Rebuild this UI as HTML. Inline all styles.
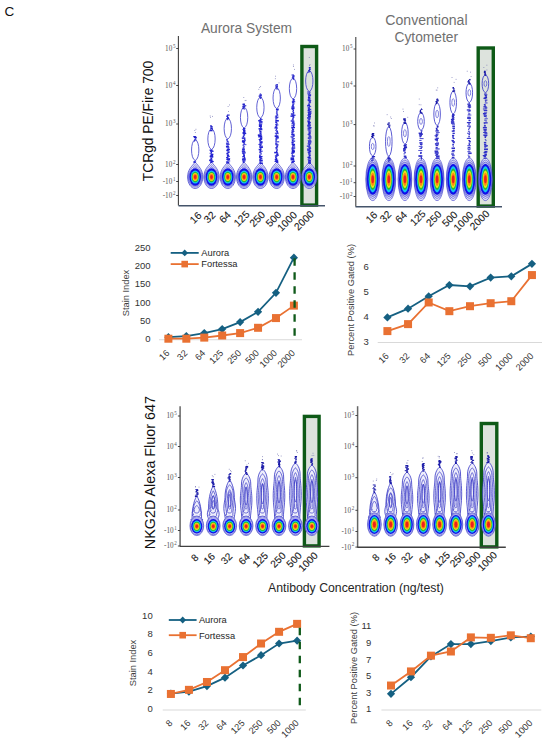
<!DOCTYPE html><html><head><meta charset="utf-8"><style>html,body{margin:0;padding:0;background:#fff;width:550px;height:742px;overflow:hidden;position:relative}</style></head><body><svg width="550" height="742" viewBox="0 0 550 742" style="position:absolute;left:0;top:0"><rect width="550" height="742" fill="#fff"/><text x="4.4" y="16.2" font-family="Liberation Sans, sans-serif" font-size="13.5" fill="#111">C</text><text transform="translate(246.5,32.5) scale(0.92,1)" x="0" y="0" text-anchor="middle" font-family="Liberation Sans, sans-serif" font-size="15" fill="#707070">Aurora System</text><text transform="translate(426.4,25.3) scale(0.94,1)" x="0" y="0" text-anchor="middle" font-family="Liberation Sans, sans-serif" font-size="15" fill="#707070">Conventional</text><text transform="translate(426.3,41.5) scale(0.92,1)" x="0" y="0" text-anchor="middle" font-family="Liberation Sans, sans-serif" font-size="15" fill="#707070">Cytometer</text><text transform="translate(152.6,121) rotate(-90)" text-anchor="middle" font-family="Liberation Sans, sans-serif" font-size="13.8" fill="#111">TCRgd PE/Fire 700</text><text transform="translate(154.8,472.6) rotate(-90)" text-anchor="middle" font-family="Liberation Sans, sans-serif" font-size="14.35" fill="#111">NKG2D Alexa Fluor 647</text><rect x="301.9" y="46.5" width="14.7" height="158.6" fill="#dde3dd" stroke="#0e5a17" stroke-width="3.4"/><path d="M195.2,162 C198.62,166.5 202.8,169.5 202.8,177 C202.8,183.32 199.38,188.5 195.2,188.5 C191.02,188.5 187.6,183.32 187.6,177 C187.6,169.5 191.78,166.5 195.2,162 Z" fill="#ededfa" stroke="#3232c8" stroke-width="0.7"/><path d="M195.2,164.5 C198.3,168.25 202.1,170.75 202.1,177 C202.1,182.61 198.99,187.2 195.2,187.2 C191.41,187.2 188.3,182.61 188.3,177 C188.3,170.75 192.09,168.25 195.2,164.5 Z" fill="none" stroke="#3232c8" stroke-width="0.5"/><path d="M195.2,166.5 C198.08,169.65 201.6,171.75 201.6,177 C201.6,182.06 198.72,186.2 195.2,186.2 C191.68,186.2 188.8,182.06 188.8,177 C188.8,171.75 192.32,169.65 195.2,166.5 Z" fill="#b0b0ee" stroke="#3232c8" stroke-width="0.5"/><ellipse cx="195.2" cy="177" rx="5.8" ry="8.7" fill="#1010e8" stroke="none" stroke-width="0"/><ellipse cx="195.2" cy="177" rx="4.41" ry="6.61" fill="#14c4f0" stroke="none" stroke-width="0"/><ellipse cx="195.2" cy="177" rx="3.48" ry="5.22" fill="#2cbc2c" stroke="none" stroke-width="0"/><ellipse cx="195.2" cy="177" rx="2.67" ry="4" fill="#e8e41a" stroke="none" stroke-width="0"/><ellipse cx="195.2" cy="177" rx="2.09" ry="3.13" fill="#ff8a12" stroke="none" stroke-width="0"/><ellipse cx="195.2" cy="177" rx="1.39" ry="2.09" fill="#ee1e1e" stroke="none" stroke-width="0"/><rect x="194.73" y="160.5" width="1.42" height="1.02" fill="#2222d0"/><rect x="193.48" y="161.1" width="2.02" height="1.24" fill="#2222d0"/><rect x="193.4" y="162.06" width="2.21" height="0.74" fill="#2222d0"/><path d="M195.2,139.5 C200.08,141.18 200.08,158.82 195.2,160.5 C190.32,158.82 190.32,141.18 195.2,139.5 Z" fill="none" stroke="#4646cc" stroke-width="0.85"/><path d="M195.2,138 C196.39,139.92 196.39,160.08 195.2,162 C194.01,160.08 194.01,139.92 195.2,138 Z" fill="none" stroke="#3232c8" stroke-width="0.6" opacity="0.0"/><rect x="193.27" y="136" width="2.65" height="1.12" fill="#2222c8"/><rect x="193.88" y="136.73" width="2.9" height="1.33" fill="#2222c8"/><rect x="195.23" y="137.66" width="1.09" height="1.68" fill="#2222c8"/><rect x="194.28" y="138.73" width="1.24" height="0.84" fill="#2222c8"/><rect x="194.34" y="139.6" width="2.16" height="0.88" fill="#2222c8"/><rect x="193.93" y="140.27" width="1.13" height="1.25" fill="#2222c8"/><rect x="194.91" y="132.12" width="0.8" height="0.8" fill="#7070b0"/><rect x="195.54" y="128.83" width="0.8" height="0.8" fill="#7070b0"/><rect x="194.4" y="130.08" width="0.8" height="0.8" fill="#7070b0"/><path d="M211.5,162 C214.92,166.5 219.1,169.5 219.1,177 C219.1,183.32 215.68,188.5 211.5,188.5 C207.32,188.5 203.9,183.32 203.9,177 C203.9,169.5 208.08,166.5 211.5,162 Z" fill="#ededfa" stroke="#3232c8" stroke-width="0.7"/><path d="M211.5,164.5 C214.6,168.25 218.4,170.75 218.4,177 C218.4,182.61 215.29,187.2 211.5,187.2 C207.71,187.2 204.6,182.61 204.6,177 C204.6,170.75 208.4,168.25 211.5,164.5 Z" fill="none" stroke="#3232c8" stroke-width="0.5"/><path d="M211.5,166.5 C214.38,169.65 217.9,171.75 217.9,177 C217.9,182.06 215.02,186.2 211.5,186.2 C207.98,186.2 205.1,182.06 205.1,177 C205.1,171.75 208.62,169.65 211.5,166.5 Z" fill="#b0b0ee" stroke="#3232c8" stroke-width="0.5"/><ellipse cx="211.5" cy="177" rx="5.8" ry="8.7" fill="#1010e8" stroke="none" stroke-width="0"/><ellipse cx="211.5" cy="177" rx="4.41" ry="6.61" fill="#14c4f0" stroke="none" stroke-width="0"/><ellipse cx="211.5" cy="177" rx="3.48" ry="5.22" fill="#2cbc2c" stroke="none" stroke-width="0"/><ellipse cx="211.5" cy="177" rx="2.67" ry="4" fill="#e8e41a" stroke="none" stroke-width="0"/><ellipse cx="211.5" cy="177" rx="2.09" ry="3.13" fill="#ff8a12" stroke="none" stroke-width="0"/><ellipse cx="211.5" cy="177" rx="1.39" ry="2.09" fill="#ee1e1e" stroke="none" stroke-width="0"/><rect x="209.61" y="149.5" width="2.96" height="1.49" fill="#2222d0"/><rect x="210.14" y="150.64" width="3.45" height="1.23" fill="#2222d0"/><rect x="210.7" y="151.47" width="1.33" height="1.68" fill="#2222d0"/><rect x="209.58" y="152.81" width="2.37" height="0.85" fill="#2222d0"/><rect x="210.8" y="153.65" width="2.6" height="1.46" fill="#2222d0"/><rect x="210.3" y="154.62" width="2.66" height="1.4" fill="#2222d0"/><rect x="209.64" y="155.64" width="3.65" height="1.54" fill="#2222d0"/><rect x="210.25" y="156.86" width="2.96" height="0.76" fill="#2222d0"/><rect x="210.42" y="157.82" width="1.8" height="1.52" fill="#2222d0"/><rect x="209.82" y="159.02" width="2.29" height="0.72" fill="#2222d0"/><rect x="209.33" y="159.49" width="3.15" height="0.76" fill="#2222d0"/><rect x="209.11" y="160.04" width="3.44" height="1.09" fill="#2222d0"/><rect x="210.27" y="160.89" width="3.47" height="1.25" fill="#2222d0"/><rect x="210.19" y="162.05" width="2.16" height="0.98" fill="#2222d0"/><path d="M211.5,128.5 C216.38,130.18 216.38,147.82 211.5,149.5 C206.62,147.82 206.62,130.18 211.5,128.5 Z" fill="none" stroke="#4646cc" stroke-width="0.85"/><path d="M211.5,127 C212.69,128.92 212.69,149.08 211.5,151 C210.31,149.08 210.31,128.92 211.5,127 Z" fill="none" stroke="#3232c8" stroke-width="0.6" opacity="0.0"/><rect x="210.33" y="125" width="1.3" height="1.66" fill="#2222c8"/><rect x="210.66" y="126.03" width="1.97" height="0.93" fill="#2222c8"/><rect x="210.37" y="126.67" width="1.84" height="0.7" fill="#2222c8"/><rect x="210.33" y="127.34" width="2.38" height="1.65" fill="#2222c8"/><rect x="211.59" y="128.56" width="1.11" height="1.38" fill="#2222c8"/><rect x="210.03" y="129.71" width="2.6" height="1.57" fill="#2222c8"/><rect x="212.04" y="115.93" width="0.8" height="0.8" fill="#7070b0"/><rect x="209.77" y="115.56" width="0.8" height="0.8" fill="#7070b0"/><rect x="210.15" y="116.88" width="0.8" height="0.8" fill="#7070b0"/><path d="M227.8,162 C231.22,166.5 235.4,169.5 235.4,177 C235.4,183.32 231.98,188.5 227.8,188.5 C223.62,188.5 220.2,183.32 220.2,177 C220.2,169.5 224.38,166.5 227.8,162 Z" fill="#ededfa" stroke="#3232c8" stroke-width="0.7"/><path d="M227.8,164.5 C230.9,168.25 234.7,170.75 234.7,177 C234.7,182.61 231.59,187.2 227.8,187.2 C224,187.2 220.9,182.61 220.9,177 C220.9,170.75 224.69,168.25 227.8,164.5 Z" fill="none" stroke="#3232c8" stroke-width="0.5"/><path d="M227.8,166.5 C230.68,169.65 234.2,171.75 234.2,177 C234.2,182.06 231.32,186.2 227.8,186.2 C224.28,186.2 221.4,182.06 221.4,177 C221.4,171.75 224.92,169.65 227.8,166.5 Z" fill="#b0b0ee" stroke="#3232c8" stroke-width="0.5"/><ellipse cx="227.8" cy="177" rx="5.8" ry="8.7" fill="#1010e8" stroke="none" stroke-width="0"/><ellipse cx="227.8" cy="177" rx="4.41" ry="6.61" fill="#14c4f0" stroke="none" stroke-width="0"/><ellipse cx="227.8" cy="177" rx="3.48" ry="5.22" fill="#2cbc2c" stroke="none" stroke-width="0"/><ellipse cx="227.8" cy="177" rx="2.67" ry="4" fill="#e8e41a" stroke="none" stroke-width="0"/><ellipse cx="227.8" cy="177" rx="2.09" ry="3.13" fill="#ff8a12" stroke="none" stroke-width="0"/><ellipse cx="227.8" cy="177" rx="1.39" ry="2.09" fill="#ee1e1e" stroke="none" stroke-width="0"/><rect x="226.43" y="139" width="1.15" height="1.04" fill="#2222d0"/><rect x="226.03" y="139.66" width="2.02" height="0.8" fill="#2222d0"/><rect x="226.7" y="140.58" width="1.42" height="1.31" fill="#2222d0"/><rect x="227.69" y="141.49" width="1.34" height="1.06" fill="#2222d0"/><rect x="225.96" y="142.62" width="2.35" height="1.17" fill="#2222d0"/><rect x="227.46" y="143.32" width="1.74" height="1.04" fill="#2222d0"/><rect x="226.01" y="143.98" width="3.66" height="0.72" fill="#2222d0"/><rect x="227.31" y="144.46" width="1.08" height="1.24" fill="#2222d0"/><rect x="225.94" y="145.68" width="2.95" height="1.56" fill="#2222d0"/><rect x="226.27" y="146.74" width="3.16" height="0.87" fill="#2222d0"/><rect x="227.49" y="147.65" width="1.62" height="1.03" fill="#2222d0"/><rect x="226.68" y="148.76" width="3.26" height="1.55" fill="#2222d0"/><rect x="226.34" y="150.02" width="2.45" height="0.93" fill="#2222d0"/><rect x="226.52" y="150.54" width="1.78" height="0.73" fill="#2222d0"/><rect x="227.37" y="151.32" width="2.25" height="1.66" fill="#2222d0"/><rect x="226.34" y="152.78" width="2.02" height="1.66" fill="#2222d0"/><rect x="227.21" y="153.81" width="1.57" height="0.9" fill="#2222d0"/><rect x="226.87" y="154.8" width="2.34" height="1.54" fill="#2222d0"/><rect x="227.03" y="156.09" width="2.85" height="0.78" fill="#2222d0"/><rect x="226.12" y="156.95" width="2.34" height="1.45" fill="#2222d0"/><rect x="226.93" y="158.18" width="3.24" height="1.03" fill="#2222d0"/><rect x="226.33" y="158.97" width="3.65" height="1.1" fill="#2222d0"/><rect x="227.74" y="159.67" width="1.42" height="0.83" fill="#2222d0"/><rect x="226.91" y="160.57" width="3.31" height="0.85" fill="#2222d0"/><rect x="225.94" y="161.39" width="2.54" height="1.05" fill="#2222d0"/><rect x="226.43" y="161.98" width="2.82" height="1.67" fill="#2222d0"/><path d="M227.8,118 C232.68,119.68 232.68,137.32 227.8,139 C222.92,137.32 222.92,119.68 227.8,118 Z" fill="none" stroke="#4646cc" stroke-width="0.85"/><path d="M227.8,116.5 C228.99,118.42 228.99,138.58 227.8,140.5 C226.61,138.58 226.61,118.42 227.8,116.5 Z" fill="none" stroke="#3232c8" stroke-width="0.6" opacity="0.0"/><rect x="226.95" y="114.5" width="2.74" height="1.13" fill="#2222c8"/><rect x="226.59" y="115.23" width="1.59" height="0.95" fill="#2222c8"/><rect x="226.29" y="116.05" width="1.84" height="0.96" fill="#2222c8"/><rect x="226.98" y="117.03" width="1.92" height="1.05" fill="#2222c8"/><rect x="226.38" y="118.06" width="2.84" height="1.12" fill="#2222c8"/><rect x="227.19" y="118.94" width="1.04" height="1.22" fill="#2222c8"/><rect x="229" y="104.54" width="0.8" height="0.8" fill="#7070b0"/><rect x="227.69" y="106.05" width="0.8" height="0.8" fill="#7070b0"/><rect x="228.03" y="111.03" width="0.8" height="0.8" fill="#7070b0"/><path d="M244.1,162 C247.52,166.5 251.7,169.5 251.7,177 C251.7,183.32 248.28,188.5 244.1,188.5 C239.92,188.5 236.5,183.32 236.5,177 C236.5,169.5 240.68,166.5 244.1,162 Z" fill="#ededfa" stroke="#3232c8" stroke-width="0.7"/><path d="M244.1,164.5 C247.2,168.25 251,170.75 251,177 C251,182.61 247.89,187.2 244.1,187.2 C240.31,187.2 237.2,182.61 237.2,177 C237.2,170.75 241,168.25 244.1,164.5 Z" fill="none" stroke="#3232c8" stroke-width="0.5"/><path d="M244.1,166.5 C246.98,169.65 250.5,171.75 250.5,177 C250.5,182.06 247.62,186.2 244.1,186.2 C240.58,186.2 237.7,182.06 237.7,177 C237.7,171.75 241.22,169.65 244.1,166.5 Z" fill="#b0b0ee" stroke="#3232c8" stroke-width="0.5"/><ellipse cx="244.1" cy="177" rx="5.8" ry="8.7" fill="#1010e8" stroke="none" stroke-width="0"/><ellipse cx="244.1" cy="177" rx="4.41" ry="6.61" fill="#14c4f0" stroke="none" stroke-width="0"/><ellipse cx="244.1" cy="177" rx="3.48" ry="5.22" fill="#2cbc2c" stroke="none" stroke-width="0"/><ellipse cx="244.1" cy="177" rx="2.67" ry="4" fill="#e8e41a" stroke="none" stroke-width="0"/><ellipse cx="244.1" cy="177" rx="2.09" ry="3.13" fill="#ff8a12" stroke="none" stroke-width="0"/><ellipse cx="244.1" cy="177" rx="1.39" ry="2.09" fill="#ee1e1e" stroke="none" stroke-width="0"/><rect x="242.96" y="128" width="2.45" height="1.03" fill="#2222d0"/><rect x="242.41" y="129" width="2.57" height="0.81" fill="#2222d0"/><rect x="242.99" y="129.59" width="2.42" height="1.47" fill="#2222d0"/><rect x="243.16" y="130.82" width="2.24" height="1.61" fill="#2222d0"/><rect x="242.55" y="131.98" width="2.94" height="1.21" fill="#2222d0"/><rect x="242.6" y="132.94" width="3.64" height="1.18" fill="#2222d0"/><rect x="243.33" y="134.07" width="1.73" height="1.64" fill="#2222d0"/><rect x="242.8" y="135.5" width="1.38" height="1.54" fill="#2222d0"/><rect x="242.58" y="136.59" width="1.67" height="0.77" fill="#2222d0"/><rect x="241.79" y="137.38" width="3.51" height="1.48" fill="#2222d0"/><rect x="244.01" y="138.59" width="1.4" height="1.36" fill="#2222d0"/><rect x="242.1" y="139.87" width="3.67" height="0.92" fill="#2222d0"/><rect x="241.89" y="140.64" width="3.33" height="1.69" fill="#2222d0"/><rect x="242.64" y="141.81" width="1.95" height="1.22" fill="#2222d0"/><rect x="243.66" y="142.65" width="1.05" height="1.42" fill="#2222d0"/><rect x="243.33" y="143.68" width="1.93" height="0.72" fill="#2222d0"/><rect x="242.68" y="144.35" width="3.76" height="0.76" fill="#2222d0"/><rect x="242.49" y="145.31" width="1.74" height="0.8" fill="#2222d0"/><rect x="243.29" y="146.18" width="1.36" height="0.97" fill="#2222d0"/><rect x="242.68" y="147.22" width="1.72" height="1.52" fill="#2222d0"/><rect x="241.96" y="148.56" width="2.96" height="1.27" fill="#2222d0"/><rect x="242.32" y="149.29" width="2.19" height="1.39" fill="#2222d0"/><rect x="241.81" y="150.57" width="3.24" height="1.33" fill="#2222d0"/><rect x="242.32" y="151.77" width="3.42" height="0.77" fill="#2222d0"/><rect x="241.93" y="152.38" width="3.59" height="1.25" fill="#2222d0"/><rect x="242.64" y="153.14" width="1.67" height="1.23" fill="#2222d0"/><rect x="243.02" y="153.9" width="1.56" height="0.75" fill="#2222d0"/><rect x="243.19" y="154.48" width="1.81" height="1.46" fill="#2222d0"/><rect x="243.18" y="155.38" width="1.05" height="1.05" fill="#2222d0"/><rect x="242.33" y="155.97" width="2.54" height="1.43" fill="#2222d0"/><rect x="243.96" y="157.02" width="1.3" height="1.63" fill="#2222d0"/><rect x="242.26" y="158.16" width="3.34" height="1.2" fill="#2222d0"/><rect x="241.97" y="159.09" width="3.75" height="1.39" fill="#2222d0"/><rect x="242.56" y="160.31" width="2.78" height="1.41" fill="#2222d0"/><rect x="242.73" y="161.28" width="1.36" height="0.75" fill="#2222d0"/><rect x="242.71" y="162.1" width="1.46" height="0.96" fill="#2222d0"/><path d="M244.1,107 C248.98,108.68 248.98,126.32 244.1,128 C239.22,126.32 239.22,108.68 244.1,107 Z" fill="none" stroke="#4646cc" stroke-width="0.85"/><path d="M244.1,105.5 C245.29,107.42 245.29,127.58 244.1,129.5 C242.91,127.58 242.91,107.42 244.1,105.5 Z" fill="none" stroke="#3232c8" stroke-width="0.6" opacity="0.0"/><rect x="242.58" y="103.5" width="2.34" height="1.57" fill="#2222c8"/><rect x="242.59" y="104.48" width="1.92" height="0.99" fill="#2222c8"/><rect x="243.39" y="105.25" width="2.92" height="0.96" fill="#2222c8"/><rect x="242.33" y="106.06" width="2.93" height="0.94" fill="#2222c8"/><rect x="243.18" y="106.76" width="1.76" height="0.7" fill="#2222c8"/><rect x="242.3" y="107.39" width="2.01" height="0.9" fill="#2222c8"/><rect x="242.47" y="108.02" width="1.8" height="0.79" fill="#2222c8"/><rect x="243.5" y="108.47" width="1.47" height="1" fill="#2222c8"/><rect x="244.73" y="100.25" width="0.8" height="0.8" fill="#7070b0"/><rect x="245.62" y="99.94" width="0.8" height="0.8" fill="#7070b0"/><rect x="243.4" y="97.01" width="0.8" height="0.8" fill="#7070b0"/><path d="M260.4,162 C263.82,166.5 268,169.5 268,177 C268,183.32 264.58,188.5 260.4,188.5 C256.22,188.5 252.8,183.32 252.8,177 C252.8,169.5 256.98,166.5 260.4,162 Z" fill="#ededfa" stroke="#3232c8" stroke-width="0.7"/><path d="M260.4,164.5 C263.5,168.25 267.3,170.75 267.3,177 C267.3,182.61 264.19,187.2 260.4,187.2 C256.6,187.2 253.5,182.61 253.5,177 C253.5,170.75 257.29,168.25 260.4,164.5 Z" fill="none" stroke="#3232c8" stroke-width="0.5"/><path d="M260.4,166.5 C263.28,169.65 266.8,171.75 266.8,177 C266.8,182.06 263.92,186.2 260.4,186.2 C256.88,186.2 254,182.06 254,177 C254,171.75 257.52,169.65 260.4,166.5 Z" fill="#b0b0ee" stroke="#3232c8" stroke-width="0.5"/><ellipse cx="260.4" cy="177" rx="5.8" ry="8.7" fill="#1010e8" stroke="none" stroke-width="0"/><ellipse cx="260.4" cy="177" rx="4.41" ry="6.61" fill="#14c4f0" stroke="none" stroke-width="0"/><ellipse cx="260.4" cy="177" rx="3.48" ry="5.22" fill="#2cbc2c" stroke="none" stroke-width="0"/><ellipse cx="260.4" cy="177" rx="2.67" ry="4" fill="#e8e41a" stroke="none" stroke-width="0"/><ellipse cx="260.4" cy="177" rx="2.09" ry="3.13" fill="#ff8a12" stroke="none" stroke-width="0"/><ellipse cx="260.4" cy="177" rx="1.39" ry="2.09" fill="#ee1e1e" stroke="none" stroke-width="0"/><rect x="260.05" y="118" width="1.42" height="1.68" fill="#2222d0"/><rect x="259.36" y="119.28" width="3.34" height="0.74" fill="#2222d0"/><rect x="258.19" y="120.03" width="3.27" height="1.43" fill="#2222d0"/><rect x="259.22" y="121.11" width="3.34" height="1.2" fill="#2222d0"/><rect x="258.94" y="122.23" width="3.5" height="1.28" fill="#2222d0"/><rect x="259.27" y="123.32" width="1.09" height="0.93" fill="#2222d0"/><rect x="258.82" y="124.03" width="3.34" height="0.8" fill="#2222d0"/><rect x="258.93" y="124.81" width="2.91" height="1.33" fill="#2222d0"/><rect x="258.86" y="125.54" width="3.1" height="1.5" fill="#2222d0"/><rect x="260.19" y="126.66" width="1.18" height="1.36" fill="#2222d0"/><rect x="259.9" y="127.55" width="1.74" height="0.77" fill="#2222d0"/><rect x="258.52" y="128.09" width="3.73" height="1.44" fill="#2222d0"/><rect x="259.37" y="129.09" width="2.91" height="1.18" fill="#2222d0"/><rect x="259.23" y="130.08" width="1.22" height="1.34" fill="#2222d0"/><rect x="259.58" y="130.96" width="1.85" height="1.44" fill="#2222d0"/><rect x="259.8" y="131.76" width="1.75" height="0.76" fill="#2222d0"/><rect x="259.52" y="132.56" width="1.81" height="1.38" fill="#2222d0"/><rect x="260.36" y="133.57" width="1.33" height="1.17" fill="#2222d0"/><rect x="257.82" y="134.32" width="3.62" height="1.68" fill="#2222d0"/><rect x="258.46" y="135.49" width="3.71" height="1.52" fill="#2222d0"/><rect x="258.11" y="136.48" width="3.65" height="0.91" fill="#2222d0"/><rect x="259.89" y="137.3" width="2.47" height="0.84" fill="#2222d0"/><rect x="259.81" y="137.83" width="2.42" height="1.52" fill="#2222d0"/><rect x="258.62" y="139.06" width="3.51" height="0.93" fill="#2222d0"/><rect x="259.13" y="139.58" width="2.38" height="0.7" fill="#2222d0"/><rect x="259.12" y="140.14" width="1.96" height="0.84" fill="#2222d0"/><rect x="259.39" y="141.06" width="3.1" height="0.7" fill="#2222d0"/><rect x="259.54" y="141.51" width="3" height="1.63" fill="#2222d0"/><rect x="260.15" y="142.57" width="2.1" height="1.07" fill="#2222d0"/><rect x="258.94" y="143.48" width="2.2" height="1.06" fill="#2222d0"/><rect x="258.39" y="144.09" width="3.34" height="0.8" fill="#2222d0"/><rect x="259.55" y="145.05" width="1.74" height="0.95" fill="#2222d0"/><rect x="259.18" y="145.67" width="3.68" height="1.07" fill="#2222d0"/><rect x="259.33" y="146.71" width="3.56" height="1.33" fill="#2222d0"/><rect x="260.2" y="147.74" width="1.14" height="1.42" fill="#2222d0"/><rect x="258.66" y="148.77" width="2.8" height="1.45" fill="#2222d0"/><rect x="259.68" y="149.6" width="1.36" height="1.63" fill="#2222d0"/><rect x="259.63" y="150.68" width="3.07" height="1" fill="#2222d0"/><rect x="259.57" y="151.37" width="1.84" height="1.36" fill="#2222d0"/><rect x="259.21" y="152.34" width="1.45" height="0.87" fill="#2222d0"/><rect x="260.24" y="153.31" width="1.62" height="1.2" fill="#2222d0"/><rect x="259.21" y="154.52" width="1.39" height="1.15" fill="#2222d0"/><rect x="259.36" y="155.2" width="1.26" height="1.04" fill="#2222d0"/><rect x="259.06" y="155.92" width="3.48" height="1.27" fill="#2222d0"/><rect x="258.97" y="156.84" width="2.47" height="1.11" fill="#2222d0"/><rect x="260.26" y="157.64" width="1.78" height="0.76" fill="#2222d0"/><rect x="259.6" y="158.13" width="2.76" height="1.2" fill="#2222d0"/><rect x="259.39" y="158.91" width="1.7" height="0.97" fill="#2222d0"/><rect x="259.31" y="159.69" width="3.38" height="1.65" fill="#2222d0"/><rect x="259.54" y="160.61" width="2.99" height="0.73" fill="#2222d0"/><rect x="259.73" y="161.27" width="1" height="1.29" fill="#2222d0"/><rect x="259.46" y="162.49" width="3.4" height="1.53" fill="#2222d0"/><path d="M260.4,97 C265.28,98.68 265.28,116.32 260.4,118 C255.52,116.32 255.52,98.68 260.4,97 Z" fill="none" stroke="#4646cc" stroke-width="0.85"/><path d="M260.4,95.5 C261.59,97.42 261.59,117.58 260.4,119.5 C259.21,117.58 259.21,97.42 260.4,95.5 Z" fill="none" stroke="#3232c8" stroke-width="0.6" opacity="0.0"/><rect x="259.78" y="93.5" width="1.31" height="0.81" fill="#2222c8"/><rect x="259.41" y="94.29" width="2.44" height="1.64" fill="#2222c8"/><rect x="258.61" y="95.57" width="2.1" height="1.16" fill="#2222c8"/><rect x="259.21" y="96.6" width="2.84" height="0.93" fill="#2222c8"/><rect x="259.87" y="97.26" width="1.5" height="0.83" fill="#2222c8"/><rect x="259.87" y="98.07" width="1.14" height="0.81" fill="#2222c8"/><rect x="259.29" y="86.99" width="0.8" height="0.8" fill="#7070b0"/><rect x="258.44" y="88.91" width="0.8" height="0.8" fill="#7070b0"/><rect x="260.24" y="86.21" width="0.8" height="0.8" fill="#7070b0"/><path d="M276.7,162 C280.12,166.5 284.3,169.5 284.3,177 C284.3,183.32 280.88,188.5 276.7,188.5 C272.52,188.5 269.1,183.32 269.1,177 C269.1,169.5 273.28,166.5 276.7,162 Z" fill="#ededfa" stroke="#3232c8" stroke-width="0.7"/><path d="M276.7,164.5 C279.81,168.25 283.6,170.75 283.6,177 C283.6,182.61 280.5,187.2 276.7,187.2 C272.9,187.2 269.8,182.61 269.8,177 C269.8,170.75 273.59,168.25 276.7,164.5 Z" fill="none" stroke="#3232c8" stroke-width="0.5"/><path d="M276.7,166.5 C279.58,169.65 283.1,171.75 283.1,177 C283.1,182.06 280.22,186.2 276.7,186.2 C273.18,186.2 270.3,182.06 270.3,177 C270.3,171.75 273.82,169.65 276.7,166.5 Z" fill="#b0b0ee" stroke="#3232c8" stroke-width="0.5"/><ellipse cx="276.7" cy="177" rx="5.8" ry="8.7" fill="#1010e8" stroke="none" stroke-width="0"/><ellipse cx="276.7" cy="177" rx="4.41" ry="6.61" fill="#14c4f0" stroke="none" stroke-width="0"/><ellipse cx="276.7" cy="177" rx="3.48" ry="5.22" fill="#2cbc2c" stroke="none" stroke-width="0"/><ellipse cx="276.7" cy="177" rx="2.67" ry="4" fill="#e8e41a" stroke="none" stroke-width="0"/><ellipse cx="276.7" cy="177" rx="2.09" ry="3.13" fill="#ff8a12" stroke="none" stroke-width="0"/><ellipse cx="276.7" cy="177" rx="1.39" ry="2.09" fill="#ee1e1e" stroke="none" stroke-width="0"/><rect x="275.91" y="108.5" width="2.8" height="1.66" fill="#2222d0"/><rect x="276.59" y="109.67" width="1.69" height="0.93" fill="#2222d0"/><rect x="276.17" y="110.58" width="1.06" height="1.01" fill="#2222d0"/><rect x="276.11" y="111.5" width="1.72" height="1.12" fill="#2222d0"/><rect x="275.89" y="112.63" width="1.1" height="0.93" fill="#2222d0"/><rect x="276.4" y="113.37" width="1.55" height="1.38" fill="#2222d0"/><rect x="276.66" y="114.53" width="1.57" height="1.2" fill="#2222d0"/><rect x="275.43" y="115.37" width="1.65" height="1.52" fill="#2222d0"/><rect x="274.86" y="116.62" width="3.67" height="0.99" fill="#2222d0"/><rect x="275.88" y="117.27" width="2.17" height="0.92" fill="#2222d0"/><rect x="275.19" y="118.3" width="2.1" height="0.85" fill="#2222d0"/><rect x="275.42" y="119.3" width="1.15" height="0.84" fill="#2222d0"/><rect x="275.34" y="119.98" width="3.47" height="1.6" fill="#2222d0"/><rect x="275.24" y="121.41" width="1.92" height="1.63" fill="#2222d0"/><rect x="276.42" y="122.82" width="1.09" height="1.45" fill="#2222d0"/><rect x="275.21" y="123.83" width="1.93" height="1.07" fill="#2222d0"/><rect x="276.44" y="124.42" width="1.98" height="0.98" fill="#2222d0"/><rect x="275.68" y="125.02" width="1.58" height="1.66" fill="#2222d0"/><rect x="274.87" y="126.39" width="2.21" height="1.52" fill="#2222d0"/><rect x="274.42" y="127.49" width="3.57" height="1.07" fill="#2222d0"/><rect x="276.01" y="128.28" width="1.08" height="1.6" fill="#2222d0"/><rect x="275.4" y="129.6" width="1.11" height="1.47" fill="#2222d0"/><rect x="276.24" y="130.45" width="1.72" height="1.62" fill="#2222d0"/><rect x="276.55" y="131.83" width="1.76" height="1.04" fill="#2222d0"/><rect x="274.9" y="132.74" width="3.01" height="0.96" fill="#2222d0"/><rect x="275.81" y="133.42" width="3.12" height="0.7" fill="#2222d0"/><rect x="275.74" y="134.16" width="1.07" height="1.64" fill="#2222d0"/><rect x="274.68" y="135.32" width="3.67" height="1.66" fill="#2222d0"/><rect x="276.19" y="136.37" width="2.38" height="1.13" fill="#2222d0"/><rect x="275.68" y="137.1" width="3.07" height="1.5" fill="#2222d0"/><rect x="275.45" y="138.35" width="1.92" height="1.31" fill="#2222d0"/><rect x="275.61" y="139.26" width="1.22" height="1.48" fill="#2222d0"/><rect x="275.36" y="140.49" width="1.18" height="0.95" fill="#2222d0"/><rect x="275.44" y="141.32" width="3.74" height="1.03" fill="#2222d0"/><rect x="275.44" y="142.43" width="1.24" height="0.96" fill="#2222d0"/><rect x="275.15" y="143.23" width="2.25" height="1.41" fill="#2222d0"/><rect x="275.65" y="144.24" width="2.89" height="1.32" fill="#2222d0"/><rect x="276.58" y="145.43" width="1.34" height="1.36" fill="#2222d0"/><rect x="276.06" y="146.34" width="2.04" height="1.27" fill="#2222d0"/><rect x="275.3" y="147.15" width="1.69" height="0.95" fill="#2222d0"/><rect x="275.58" y="148.15" width="1.91" height="1.28" fill="#2222d0"/><rect x="276.37" y="149.4" width="1.65" height="1.21" fill="#2222d0"/><rect x="276.02" y="150.43" width="1.29" height="1.69" fill="#2222d0"/><rect x="274.18" y="151.81" width="3.56" height="1.54" fill="#2222d0"/><rect x="276.69" y="152.82" width="1.53" height="0.82" fill="#2222d0"/><rect x="276.26" y="153.59" width="2.04" height="1.63" fill="#2222d0"/><rect x="275.82" y="154.73" width="3.18" height="0.96" fill="#2222d0"/><rect x="274.88" y="155.32" width="2.74" height="1.3" fill="#2222d0"/><rect x="275.52" y="156.23" width="1.57" height="0.84" fill="#2222d0"/><rect x="275.13" y="157.02" width="1.57" height="1.35" fill="#2222d0"/><rect x="275.64" y="157.95" width="1.52" height="1.38" fill="#2222d0"/><rect x="274.73" y="158.82" width="2.53" height="1.5" fill="#2222d0"/><rect x="275.65" y="159.7" width="2.54" height="1.1" fill="#2222d0"/><rect x="275.08" y="160.35" width="2.95" height="0.86" fill="#2222d0"/><rect x="274.57" y="160.98" width="3.67" height="1.01" fill="#2222d0"/><rect x="276.2" y="161.84" width="2.17" height="1.06" fill="#2222d0"/><path d="M276.7,87.5 C281.58,89.18 281.58,106.82 276.7,108.5 C271.82,106.82 271.82,89.18 276.7,87.5 Z" fill="none" stroke="#4646cc" stroke-width="0.85"/><path d="M276.7,86 C277.89,87.92 277.89,108.08 276.7,110 C275.51,108.08 275.51,87.92 276.7,86 Z" fill="none" stroke="#3232c8" stroke-width="0.6" opacity="0.0"/><rect x="276.37" y="84" width="1.39" height="1.06" fill="#2222c8"/><rect x="275.18" y="84.69" width="2.8" height="0.71" fill="#2222c8"/><rect x="275.25" y="85.49" width="2.77" height="1.11" fill="#2222c8"/><rect x="275.87" y="86.18" width="2.1" height="0.71" fill="#2222c8"/><rect x="275.37" y="87.02" width="2.24" height="0.79" fill="#2222c8"/><rect x="275.95" y="87.71" width="1.57" height="0.85" fill="#2222c8"/><rect x="276.2" y="88.64" width="1.98" height="0.81" fill="#2222c8"/><rect x="275.21" y="75.78" width="0.8" height="0.8" fill="#7070b0"/><rect x="278.6" y="82.49" width="0.8" height="0.8" fill="#7070b0"/><rect x="274.91" y="78.34" width="0.8" height="0.8" fill="#7070b0"/><path d="M293,162 C296.42,166.5 300.6,169.5 300.6,177 C300.6,183.32 297.18,188.5 293,188.5 C288.82,188.5 285.4,183.32 285.4,177 C285.4,169.5 289.58,166.5 293,162 Z" fill="#ededfa" stroke="#3232c8" stroke-width="0.7"/><path d="M293,164.5 C296.11,168.25 299.9,170.75 299.9,177 C299.9,182.61 296.8,187.2 293,187.2 C289.2,187.2 286.1,182.61 286.1,177 C286.1,170.75 289.89,168.25 293,164.5 Z" fill="none" stroke="#3232c8" stroke-width="0.5"/><path d="M293,166.5 C295.88,169.65 299.4,171.75 299.4,177 C299.4,182.06 296.52,186.2 293,186.2 C289.48,186.2 286.6,182.06 286.6,177 C286.6,171.75 290.12,169.65 293,166.5 Z" fill="#b0b0ee" stroke="#3232c8" stroke-width="0.5"/><ellipse cx="293" cy="177" rx="5.8" ry="8.7" fill="#1010e8" stroke="none" stroke-width="0"/><ellipse cx="293" cy="177" rx="4.41" ry="6.61" fill="#14c4f0" stroke="none" stroke-width="0"/><ellipse cx="293" cy="177" rx="3.48" ry="5.22" fill="#2cbc2c" stroke="none" stroke-width="0"/><ellipse cx="293" cy="177" rx="2.67" ry="4" fill="#e8e41a" stroke="none" stroke-width="0"/><ellipse cx="293" cy="177" rx="2.09" ry="3.13" fill="#ff8a12" stroke="none" stroke-width="0"/><ellipse cx="293" cy="177" rx="1.39" ry="2.09" fill="#ee1e1e" stroke="none" stroke-width="0"/><rect x="292.6" y="99" width="2.09" height="1.63" fill="#2222d0"/><rect x="292.73" y="100.24" width="1.45" height="1.52" fill="#2222d0"/><rect x="291.84" y="101.2" width="3.37" height="1.1" fill="#2222d0"/><rect x="291.97" y="101.9" width="2.12" height="0.92" fill="#2222d0"/><rect x="292.51" y="102.62" width="1.69" height="0.82" fill="#2222d0"/><rect x="292.12" y="103.57" width="2.57" height="0.74" fill="#2222d0"/><rect x="292.49" y="104" width="1.33" height="1.54" fill="#2222d0"/><rect x="291.94" y="105.14" width="1.86" height="1.33" fill="#2222d0"/><rect x="291.49" y="106.19" width="2.84" height="1.13" fill="#2222d0"/><rect x="291.62" y="107.05" width="2.73" height="0.72" fill="#2222d0"/><rect x="291.34" y="107.58" width="3.18" height="1.46" fill="#2222d0"/><rect x="291.76" y="108.49" width="1.3" height="1.17" fill="#2222d0"/><rect x="291.9" y="109.37" width="2.24" height="0.79" fill="#2222d0"/><rect x="292.76" y="109.83" width="1.23" height="1.34" fill="#2222d0"/><rect x="292.43" y="110.99" width="1.15" height="1.21" fill="#2222d0"/><rect x="292.88" y="111.86" width="1.38" height="1.65" fill="#2222d0"/><rect x="290.87" y="113.32" width="3.28" height="1.43" fill="#2222d0"/><rect x="291.83" y="114.65" width="3.68" height="1.19" fill="#2222d0"/><rect x="290.5" y="115.39" width="3.61" height="1.49" fill="#2222d0"/><rect x="292.91" y="116.4" width="1.44" height="1.46" fill="#2222d0"/><rect x="292.3" y="117.36" width="1.4" height="1.52" fill="#2222d0"/><rect x="292.14" y="118.7" width="1.74" height="0.91" fill="#2222d0"/><rect x="291.7" y="119.37" width="1.51" height="0.74" fill="#2222d0"/><rect x="290.72" y="120.29" width="3.51" height="1.38" fill="#2222d0"/><rect x="291.98" y="121.48" width="2.49" height="0.82" fill="#2222d0"/><rect x="291.85" y="122.13" width="2.55" height="1.57" fill="#2222d0"/><rect x="291.32" y="123.48" width="3.78" height="0.8" fill="#2222d0"/><rect x="292.91" y="124.14" width="1.74" height="1.5" fill="#2222d0"/><rect x="291.34" y="125.28" width="3.14" height="1.06" fill="#2222d0"/><rect x="292.94" y="125.96" width="1.14" height="1.44" fill="#2222d0"/><rect x="291.26" y="126.89" width="3.76" height="1.34" fill="#2222d0"/><rect x="291.75" y="127.99" width="1.01" height="1.01" fill="#2222d0"/><rect x="291.92" y="128.63" width="2.21" height="1.32" fill="#2222d0"/><rect x="292.43" y="129.85" width="1.64" height="0.83" fill="#2222d0"/><rect x="291.37" y="130.32" width="1.99" height="0.7" fill="#2222d0"/><rect x="291.83" y="130.9" width="2.63" height="0.92" fill="#2222d0"/><rect x="291.25" y="131.52" width="2.33" height="1.32" fill="#2222d0"/><rect x="291.64" y="132.77" width="1.42" height="0.94" fill="#2222d0"/><rect x="291.25" y="133.64" width="3.19" height="1.57" fill="#2222d0"/><rect x="291.7" y="134.65" width="2.81" height="0.71" fill="#2222d0"/><rect x="292.58" y="135.23" width="2.24" height="1.35" fill="#2222d0"/><rect x="290.51" y="136.37" width="3.53" height="0.95" fill="#2222d0"/><rect x="291.46" y="137.19" width="1.67" height="1.11" fill="#2222d0"/><rect x="292.43" y="138.22" width="2.54" height="0.71" fill="#2222d0"/><rect x="291.66" y="138.69" width="2.7" height="0.9" fill="#2222d0"/><rect x="291.95" y="139.54" width="1.49" height="1.51" fill="#2222d0"/><rect x="291.71" y="140.54" width="3.49" height="0.75" fill="#2222d0"/><rect x="291.71" y="141.34" width="3.36" height="0.71" fill="#2222d0"/><rect x="291.43" y="141.99" width="2.27" height="1.44" fill="#2222d0"/><rect x="292.18" y="142.84" width="1.11" height="0.93" fill="#2222d0"/><rect x="291.66" y="143.76" width="3.37" height="1.4" fill="#2222d0"/><rect x="292.35" y="144.68" width="2.22" height="1.25" fill="#2222d0"/><rect x="292.35" y="145.66" width="2.8" height="0.97" fill="#2222d0"/><rect x="292.1" y="146.31" width="1.04" height="1.58" fill="#2222d0"/><rect x="291.57" y="147.3" width="3.65" height="1.44" fill="#2222d0"/><rect x="291.62" y="148.28" width="1.92" height="1.58" fill="#2222d0"/><rect x="291.79" y="149.65" width="2.94" height="1.33" fill="#2222d0"/><rect x="291.64" y="150.92" width="3.35" height="1.17" fill="#2222d0"/><rect x="291.6" y="152.03" width="3.03" height="1.14" fill="#2222d0"/><rect x="290.95" y="152.83" width="2.74" height="0.91" fill="#2222d0"/><rect x="291.83" y="153.83" width="1.08" height="0.84" fill="#2222d0"/><rect x="291.55" y="154.8" width="1.4" height="1.04" fill="#2222d0"/><rect x="291.93" y="155.4" width="2.77" height="1.39" fill="#2222d0"/><rect x="291.45" y="156.57" width="2.65" height="0.77" fill="#2222d0"/><rect x="290.56" y="157.44" width="3.5" height="1.52" fill="#2222d0"/><rect x="290.55" y="158.76" width="3.64" height="1.61" fill="#2222d0"/><rect x="293.01" y="159.76" width="1.1" height="0.81" fill="#2222d0"/><rect x="291.56" y="160.65" width="3.31" height="1.33" fill="#2222d0"/><rect x="292.77" y="161.54" width="1.27" height="0.8" fill="#2222d0"/><rect x="291.14" y="162.1" width="2.19" height="1.02" fill="#2222d0"/><path d="M293,78 C297.88,79.68 297.88,97.32 293,99 C288.12,97.32 288.12,79.68 293,78 Z" fill="none" stroke="#4646cc" stroke-width="0.85"/><path d="M293,76.5 C294.19,78.42 294.19,98.58 293,100.5 C291.81,98.58 291.81,78.42 293,76.5 Z" fill="none" stroke="#3232c8" stroke-width="0.6" opacity="0.0"/><rect x="291.57" y="74.5" width="2.43" height="0.98" fill="#2222c8"/><rect x="292.56" y="75.2" width="2.01" height="1.66" fill="#2222c8"/><rect x="291.99" y="76.43" width="1.83" height="0.73" fill="#2222c8"/><rect x="291.86" y="77.21" width="2.41" height="1.05" fill="#2222c8"/><rect x="292.92" y="77.9" width="1.18" height="1.56" fill="#2222c8"/><rect x="292.72" y="78.84" width="1.4" height="0.7" fill="#2222c8"/><rect x="292.96" y="64.54" width="0.8" height="0.8" fill="#7070b0"/><rect x="294.19" y="68.92" width="0.8" height="0.8" fill="#7070b0"/><rect x="292.98" y="66.16" width="0.8" height="0.8" fill="#7070b0"/><path d="M309.3,162 C312.72,166.5 316.9,169.5 316.9,177 C316.9,183.32 313.48,188.5 309.3,188.5 C305.12,188.5 301.7,183.32 301.7,177 C301.7,169.5 305.88,166.5 309.3,162 Z" fill="#ededfa" stroke="#3232c8" stroke-width="0.7"/><path d="M309.3,164.5 C312.41,168.25 316.2,170.75 316.2,177 C316.2,182.61 313.1,187.2 309.3,187.2 C305.5,187.2 302.4,182.61 302.4,177 C302.4,170.75 306.19,168.25 309.3,164.5 Z" fill="none" stroke="#3232c8" stroke-width="0.5"/><path d="M309.3,166.5 C312.18,169.65 315.7,171.75 315.7,177 C315.7,182.06 312.82,186.2 309.3,186.2 C305.78,186.2 302.9,182.06 302.9,177 C302.9,171.75 306.42,169.65 309.3,166.5 Z" fill="#b0b0ee" stroke="#3232c8" stroke-width="0.5"/><ellipse cx="309.3" cy="177" rx="5.8" ry="8.7" fill="#1010e8" stroke="none" stroke-width="0"/><ellipse cx="309.3" cy="177" rx="4.41" ry="6.61" fill="#14c4f0" stroke="none" stroke-width="0"/><ellipse cx="309.3" cy="177" rx="3.48" ry="5.22" fill="#2cbc2c" stroke="none" stroke-width="0"/><ellipse cx="309.3" cy="177" rx="2.67" ry="4" fill="#e8e41a" stroke="none" stroke-width="0"/><ellipse cx="309.3" cy="177" rx="2.09" ry="3.13" fill="#ff8a12" stroke="none" stroke-width="0"/><ellipse cx="309.3" cy="177" rx="1.39" ry="2.09" fill="#ee1e1e" stroke="none" stroke-width="0"/><rect x="307.25" y="91.5" width="3.33" height="1.05" fill="#2222d0"/><rect x="308.82" y="92.6" width="1.6" height="0.98" fill="#2222d0"/><rect x="307.24" y="93.41" width="2.78" height="0.81" fill="#2222d0"/><rect x="307.9" y="94.29" width="3.2" height="1.4" fill="#2222d0"/><rect x="308.87" y="95.25" width="2.1" height="1.1" fill="#2222d0"/><rect x="308.29" y="95.91" width="1.07" height="1.59" fill="#2222d0"/><rect x="307.91" y="96.92" width="2.4" height="1.6" fill="#2222d0"/><rect x="308.21" y="98.29" width="2.29" height="0.93" fill="#2222d0"/><rect x="307.65" y="99.22" width="2.81" height="1.45" fill="#2222d0"/><rect x="307.88" y="100.2" width="3.36" height="0.86" fill="#2222d0"/><rect x="308.62" y="101.08" width="2.23" height="0.87" fill="#2222d0"/><rect x="308.77" y="101.87" width="2.29" height="0.83" fill="#2222d0"/><rect x="308.7" y="102.46" width="1.84" height="0.89" fill="#2222d0"/><rect x="308.18" y="103.41" width="1.44" height="0.85" fill="#2222d0"/><rect x="308.3" y="104.06" width="1.45" height="1.22" fill="#2222d0"/><rect x="307.14" y="104.84" width="3.04" height="1.68" fill="#2222d0"/><rect x="309.04" y="106.29" width="2.08" height="0.8" fill="#2222d0"/><rect x="307.71" y="107.17" width="2.22" height="1.43" fill="#2222d0"/><rect x="308.33" y="108.31" width="1.58" height="0.81" fill="#2222d0"/><rect x="308" y="108.77" width="3.21" height="1.1" fill="#2222d0"/><rect x="307.58" y="109.65" width="2.3" height="1.33" fill="#2222d0"/><rect x="308.42" y="110.71" width="3.07" height="1.1" fill="#2222d0"/><rect x="307.63" y="111.56" width="3.1" height="1.27" fill="#2222d0"/><rect x="308.01" y="112.38" width="3.46" height="1.42" fill="#2222d0"/><rect x="308.08" y="113.55" width="2.9" height="1.55" fill="#2222d0"/><rect x="307.28" y="114.66" width="2.76" height="1.01" fill="#2222d0"/><rect x="308.01" y="115.44" width="3" height="1.48" fill="#2222d0"/><rect x="308.36" y="116.4" width="2.27" height="1.12" fill="#2222d0"/><rect x="306.99" y="117.24" width="3.6" height="1.38" fill="#2222d0"/><rect x="308.24" y="118.36" width="2.09" height="1.48" fill="#2222d0"/><rect x="307.5" y="119.7" width="2.52" height="0.74" fill="#2222d0"/><rect x="307.43" y="120.54" width="2.45" height="1.64" fill="#2222d0"/><rect x="307.82" y="121.76" width="3.01" height="1.24" fill="#2222d0"/><rect x="307.93" y="122.79" width="2.46" height="1.53" fill="#2222d0"/><rect x="307.67" y="124.16" width="2.92" height="0.91" fill="#2222d0"/><rect x="307.19" y="125.08" width="3.76" height="0.82" fill="#2222d0"/><rect x="307.46" y="125.56" width="2.12" height="0.97" fill="#2222d0"/><rect x="307.59" y="126.33" width="2.96" height="1.12" fill="#2222d0"/><rect x="308.47" y="127.09" width="3.08" height="0.92" fill="#2222d0"/><rect x="307.51" y="127.89" width="3.24" height="0.92" fill="#2222d0"/><rect x="308.21" y="128.51" width="3.17" height="0.83" fill="#2222d0"/><rect x="307.57" y="129.31" width="2.57" height="1.17" fill="#2222d0"/><rect x="308.42" y="130.49" width="2.79" height="1.05" fill="#2222d0"/><rect x="308.47" y="131.51" width="1.82" height="1.17" fill="#2222d0"/><rect x="308.86" y="132.23" width="1.99" height="1.53" fill="#2222d0"/><rect x="308.33" y="133.22" width="1.71" height="1.08" fill="#2222d0"/><rect x="307.44" y="133.91" width="3.02" height="0.7" fill="#2222d0"/><rect x="308.01" y="134.43" width="2.34" height="1" fill="#2222d0"/><rect x="308.98" y="135.33" width="2.01" height="1.36" fill="#2222d0"/><rect x="308.29" y="136.55" width="3.32" height="0.76" fill="#2222d0"/><rect x="307.85" y="137.4" width="3.33" height="0.84" fill="#2222d0"/><rect x="307.72" y="137.87" width="3.66" height="0.71" fill="#2222d0"/><rect x="308.17" y="138.4" width="1.4" height="0.8" fill="#2222d0"/><rect x="309.23" y="139.27" width="1.43" height="1.05" fill="#2222d0"/><rect x="307.73" y="140.28" width="3.5" height="0.87" fill="#2222d0"/><rect x="308.01" y="141.18" width="3.5" height="1.37" fill="#2222d0"/><rect x="307.88" y="142.4" width="2.94" height="0.9" fill="#2222d0"/><rect x="307.65" y="143.3" width="3.47" height="1.14" fill="#2222d0"/><rect x="308.59" y="144.07" width="1.39" height="0.93" fill="#2222d0"/><rect x="308.58" y="144.62" width="1.4" height="1.17" fill="#2222d0"/><rect x="306.8" y="145.53" width="3.42" height="1.24" fill="#2222d0"/><rect x="308.28" y="146.68" width="2.58" height="1.17" fill="#2222d0"/><rect x="308.95" y="147.78" width="2.17" height="1.07" fill="#2222d0"/><rect x="307.16" y="148.41" width="2.78" height="1.34" fill="#2222d0"/><rect x="307.22" y="149.48" width="3.61" height="1.38" fill="#2222d0"/><rect x="308.76" y="150.78" width="2.36" height="1.21" fill="#2222d0"/><rect x="307.67" y="151.47" width="2.75" height="1.42" fill="#2222d0"/><rect x="308.18" y="152.72" width="2.33" height="1.07" fill="#2222d0"/><rect x="308.07" y="153.73" width="2.22" height="0.91" fill="#2222d0"/><rect x="308.91" y="154.54" width="1.82" height="1.53" fill="#2222d0"/><rect x="308.43" y="155.6" width="1.76" height="1.2" fill="#2222d0"/><rect x="307.42" y="156.8" width="3.22" height="1.35" fill="#2222d0"/><rect x="308.19" y="157.72" width="2.64" height="1" fill="#2222d0"/><rect x="308.41" y="158.7" width="3.02" height="0.74" fill="#2222d0"/><rect x="307.59" y="159.41" width="1.84" height="0.75" fill="#2222d0"/><rect x="308.2" y="159.92" width="2.7" height="1.62" fill="#2222d0"/><rect x="308.13" y="161.25" width="2.71" height="1.61" fill="#2222d0"/><rect x="308.25" y="162.48" width="2.67" height="1.4" fill="#2222d0"/><path d="M309.3,70.5 C314.18,72.18 314.18,89.82 309.3,91.5 C304.42,89.82 304.42,72.18 309.3,70.5 Z" fill="none" stroke="#4646cc" stroke-width="0.85"/><path d="M309.3,69 C310.49,70.92 310.49,91.08 309.3,93 C308.11,91.08 308.11,70.92 309.3,69 Z" fill="none" stroke="#3232c8" stroke-width="0.6" opacity="0.0"/><rect x="308.76" y="67" width="1.92" height="1.37" fill="#2222c8"/><rect x="309.2" y="67.8" width="1.07" height="0.88" fill="#2222c8"/><rect x="308.95" y="68.74" width="1.74" height="1.36" fill="#2222c8"/><rect x="308.23" y="69.88" width="1.52" height="1.26" fill="#2222c8"/><rect x="308.6" y="70.79" width="1.86" height="1.02" fill="#2222c8"/><rect x="307.5" y="71.82" width="2.14" height="0.75" fill="#2222c8"/><rect x="309.6" y="64.29" width="0.8" height="0.8" fill="#7070b0"/><rect x="309.09" y="65.27" width="0.8" height="0.8" fill="#7070b0"/><rect x="308.85" y="57.13" width="0.8" height="0.8" fill="#7070b0"/><line x1="178.4" y1="36" x2="178.4" y2="205.5" stroke="#404040" stroke-width="1.1"/><line x1="178.5" y1="205.8" x2="325" y2="205.8" stroke="#44546a" stroke-width="1.6"/><line x1="176.2" y1="48.5" x2="178.4" y2="48.5" stroke="#333" stroke-width="0.9"/><text x="172.3" y="50.9" text-anchor="end" font-family="Liberation Serif, serif" font-size="7.2" fill="#555">10</text><text x="175.5" y="47.7" text-anchor="end" font-family="Liberation Serif, serif" font-size="5.04" fill="#555">5</text><line x1="176.2" y1="85.5" x2="178.4" y2="85.5" stroke="#333" stroke-width="0.9"/><text x="172.3" y="87.9" text-anchor="end" font-family="Liberation Serif, serif" font-size="7.2" fill="#555">10</text><text x="175.5" y="84.7" text-anchor="end" font-family="Liberation Serif, serif" font-size="5.04" fill="#555">4</text><line x1="176.2" y1="124" x2="178.4" y2="124" stroke="#333" stroke-width="0.9"/><text x="172.3" y="126.4" text-anchor="end" font-family="Liberation Serif, serif" font-size="7.2" fill="#555">10</text><text x="175.5" y="123.2" text-anchor="end" font-family="Liberation Serif, serif" font-size="5.04" fill="#555">3</text><line x1="176.2" y1="164.5" x2="178.4" y2="164.5" stroke="#333" stroke-width="0.9"/><text x="172.3" y="166.9" text-anchor="end" font-family="Liberation Serif, serif" font-size="7.2" fill="#555">10</text><text x="175.5" y="163.7" text-anchor="end" font-family="Liberation Serif, serif" font-size="5.04" fill="#555">2</text><line x1="176.2" y1="181.5" x2="178.4" y2="181.5" stroke="#333" stroke-width="0.9"/><text x="172.3" y="183.9" text-anchor="end" font-family="Liberation Serif, serif" font-size="7.2" fill="#555">-10</text><text x="175.5" y="180.7" text-anchor="end" font-family="Liberation Serif, serif" font-size="5.04" fill="#555">1</text><line x1="176.2" y1="195.5" x2="178.4" y2="195.5" stroke="#333" stroke-width="0.9"/><text x="172.3" y="197.9" text-anchor="end" font-family="Liberation Serif, serif" font-size="7.2" fill="#555">-10</text><text x="175.5" y="194.7" text-anchor="end" font-family="Liberation Serif, serif" font-size="5.04" fill="#555">2</text><text transform="translate(196.96,210.9) rotate(-45)" text-anchor="end" font-family="Liberation Sans, sans-serif" font-size="10.3" fill="#1a1a1a" stroke="#1a1a1a" stroke-width="0.1" dy="7.42">16</text><text transform="translate(210.96,210.5) rotate(-45)" text-anchor="end" font-family="Liberation Sans, sans-serif" font-size="10.3" fill="#1a1a1a" stroke="#1a1a1a" stroke-width="0.1" dy="7.42">32</text><text transform="translate(226.26,210.5) rotate(-45)" text-anchor="end" font-family="Liberation Sans, sans-serif" font-size="10.3" fill="#1a1a1a" stroke="#1a1a1a" stroke-width="0.1" dy="7.42">64</text><text transform="translate(244.96,209.8) rotate(-45)" text-anchor="end" font-family="Liberation Sans, sans-serif" font-size="10.3" fill="#1a1a1a" stroke="#1a1a1a" stroke-width="0.1" dy="7.42">125</text><text transform="translate(260.66,210.1) rotate(-45)" text-anchor="end" font-family="Liberation Sans, sans-serif" font-size="10.3" fill="#1a1a1a" stroke="#1a1a1a" stroke-width="0.1" dy="7.42">250</text><text transform="translate(276.86,210.2) rotate(-45)" text-anchor="end" font-family="Liberation Sans, sans-serif" font-size="10.3" fill="#1a1a1a" stroke="#1a1a1a" stroke-width="0.1" dy="7.42">500</text><text transform="translate(292.46,210.5) rotate(-45)" text-anchor="end" font-family="Liberation Sans, sans-serif" font-size="10.3" fill="#1a1a1a" stroke="#1a1a1a" stroke-width="0.1" dy="7.42">1000</text><text transform="translate(309.26,209.6) rotate(-45)" text-anchor="end" font-family="Liberation Sans, sans-serif" font-size="10.3" fill="#1a1a1a" stroke="#1a1a1a" stroke-width="0.1" dy="7.42">2000</text><rect x="478.2" y="48" width="15.1" height="158.1" fill="#dde3dd" stroke="#0e5a17" stroke-width="3.4"/><ellipse cx="372.7" cy="179.3" rx="6.9" ry="21.3" fill="#e0e0f8" stroke="#3232c8" stroke-width="0.6"/><ellipse cx="372.7" cy="179.3" rx="6.5" ry="19.2" fill="none" stroke="#3232c8" stroke-width="0.5"/><ellipse cx="372.7" cy="179.3" rx="6.2" ry="17.3" fill="#b0b0ee" stroke="#3232c8" stroke-width="0.5"/><ellipse cx="372.7" cy="179.3" rx="5.9" ry="15.4" fill="#1010e8" stroke="none" stroke-width="0"/><ellipse cx="372.7" cy="179.3" rx="4.13" ry="13.09" fill="#14c4f0" stroke="none" stroke-width="0"/><ellipse cx="372.7" cy="179.3" rx="3.3" ry="10.78" fill="#2cbc2c" stroke="none" stroke-width="0"/><ellipse cx="372.7" cy="179.3" rx="2.6" ry="8.78" fill="#e8e41a" stroke="none" stroke-width="0"/><ellipse cx="372.7" cy="179.3" rx="2.01" ry="6.62" fill="#ff8a12" stroke="none" stroke-width="0"/><ellipse cx="372.7" cy="179.3" rx="1.3" ry="4" fill="#ee1e1e" stroke="none" stroke-width="0"/><rect x="371.84" y="156" width="3.25" height="1.29" fill="#2424c0"/><rect x="372.31" y="156.95" width="1.24" height="1.11" fill="#2424c0"/><rect x="371.39" y="157.67" width="1.04" height="0.85" fill="#2424c0"/><rect x="370.38" y="158.48" width="3.32" height="0.82" fill="#2424c0"/><rect x="372.53" y="159.36" width="1.04" height="0.83" fill="#2424c0"/><rect x="371.26" y="159.94" width="1.45" height="1.43" fill="#2424c0"/><path d="M372.7,137 C377.06,138.52 377.06,154.48 372.7,156 C368.34,154.48 368.34,138.52 372.7,137 Z" fill="none" stroke="#3232c8" stroke-width="0.8"/><ellipse cx="372.7" cy="146.5" rx="1.4" ry="3.14" fill="none" stroke="#3232c8" stroke-width="0.6"/><rect x="371.88" y="133" width="2.37" height="1.41" fill="#1a1aa8"/><rect x="371.57" y="133.82" width="2.13" height="1.33" fill="#1a1aa8"/><rect x="371.78" y="135.02" width="2.54" height="0.95" fill="#1a1aa8"/><rect x="372.19" y="135.55" width="2.04" height="0.71" fill="#1a1aa8"/><rect x="371.08" y="135.98" width="2.17" height="1.01" fill="#1a1aa8"/><rect x="371.94" y="136.97" width="1.1" height="1.19" fill="#1a1aa8"/><rect x="373.58" y="125.83" width="0.8" height="0.8" fill="#7070b0"/><rect x="374.19" y="122.59" width="0.8" height="0.8" fill="#7070b0"/><rect x="373.42" y="125" width="0.8" height="0.8" fill="#7070b0"/><ellipse cx="388.8" cy="179.3" rx="6.9" ry="21.3" fill="#e0e0f8" stroke="#3232c8" stroke-width="0.6"/><ellipse cx="388.8" cy="179.3" rx="6.5" ry="19.2" fill="none" stroke="#3232c8" stroke-width="0.5"/><ellipse cx="388.8" cy="179.3" rx="6.2" ry="17.3" fill="#b0b0ee" stroke="#3232c8" stroke-width="0.5"/><ellipse cx="388.8" cy="179.3" rx="5.9" ry="15.4" fill="#1010e8" stroke="none" stroke-width="0"/><ellipse cx="388.8" cy="179.3" rx="4.13" ry="13.09" fill="#14c4f0" stroke="none" stroke-width="0"/><ellipse cx="388.8" cy="179.3" rx="3.3" ry="10.78" fill="#2cbc2c" stroke="none" stroke-width="0"/><ellipse cx="388.8" cy="179.3" rx="2.6" ry="8.78" fill="#e8e41a" stroke="none" stroke-width="0"/><ellipse cx="388.8" cy="179.3" rx="2.01" ry="6.62" fill="#ff8a12" stroke="none" stroke-width="0"/><ellipse cx="388.8" cy="179.3" rx="1.3" ry="4" fill="#ee1e1e" stroke="none" stroke-width="0"/><rect x="387.62" y="156.5" width="2" height="1.33" fill="#2424c0"/><rect x="387.47" y="157.62" width="2.88" height="1.64" fill="#2424c0"/><rect x="387.46" y="158.68" width="3.34" height="0.76" fill="#2424c0"/><rect x="388.34" y="159.51" width="2.45" height="1.03" fill="#2424c0"/><rect x="387.82" y="160.49" width="1.74" height="1.3" fill="#2424c0"/><path d="M388.8,126.5 C393.16,128.9 393.16,154.1 388.8,156.5 C384.44,154.1 384.44,128.9 388.8,126.5 Z" fill="none" stroke="#3232c8" stroke-width="0.8"/><ellipse cx="388.8" cy="141.5" rx="1.4" ry="4.95" fill="none" stroke="#3232c8" stroke-width="0.6"/><rect x="387.91" y="122.5" width="2.1" height="1.08" fill="#1a1aa8"/><rect x="387.28" y="123.54" width="1.45" height="1.51" fill="#1a1aa8"/><rect x="388.34" y="124.5" width="1.94" height="1.12" fill="#1a1aa8"/><rect x="388.13" y="125.56" width="2.33" height="0.74" fill="#1a1aa8"/><rect x="388.64" y="126.4" width="1.44" height="1.27" fill="#1a1aa8"/><rect x="390.87" y="118.03" width="0.8" height="0.8" fill="#7070b0"/><rect x="386.73" y="114.32" width="0.8" height="0.8" fill="#7070b0"/><rect x="390.29" y="116.59" width="0.8" height="0.8" fill="#7070b0"/><ellipse cx="404.9" cy="179.3" rx="6.9" ry="21.3" fill="#e0e0f8" stroke="#3232c8" stroke-width="0.6"/><ellipse cx="404.9" cy="179.3" rx="6.5" ry="19.2" fill="none" stroke="#3232c8" stroke-width="0.5"/><ellipse cx="404.9" cy="179.3" rx="6.2" ry="17.3" fill="#b0b0ee" stroke="#3232c8" stroke-width="0.5"/><ellipse cx="404.9" cy="179.3" rx="5.9" ry="15.4" fill="#1010e8" stroke="none" stroke-width="0"/><ellipse cx="404.9" cy="179.3" rx="4.13" ry="13.09" fill="#14c4f0" stroke="none" stroke-width="0"/><ellipse cx="404.9" cy="179.3" rx="3.3" ry="10.78" fill="#2cbc2c" stroke="none" stroke-width="0"/><ellipse cx="404.9" cy="179.3" rx="2.6" ry="8.78" fill="#e8e41a" stroke="none" stroke-width="0"/><ellipse cx="404.9" cy="179.3" rx="2.01" ry="6.62" fill="#ff8a12" stroke="none" stroke-width="0"/><ellipse cx="404.9" cy="179.3" rx="1.3" ry="4" fill="#ee1e1e" stroke="none" stroke-width="0"/><rect x="404.19" y="144.25" width="2.8" height="0.9" fill="#2424c0"/><rect x="403.53" y="144.86" width="2.63" height="1.31" fill="#2424c0"/><rect x="403.97" y="145.68" width="2.8" height="0.95" fill="#2424c0"/><rect x="403.87" y="146.44" width="2.94" height="0.79" fill="#2424c0"/><rect x="403.94" y="146.99" width="3.15" height="1.28" fill="#2424c0"/><rect x="403.2" y="147.95" width="2.41" height="1.18" fill="#2424c0"/><rect x="403.34" y="148.7" width="2.68" height="0.88" fill="#2424c0"/><rect x="403.01" y="149.25" width="2.66" height="1.1" fill="#3030c8"/><rect x="403.17" y="149.93" width="2.2" height="1.7" fill="#3030c8"/><rect x="404.31" y="151.87" width="1.5" height="1.49" fill="#3030c8"/><rect x="403.62" y="153.24" width="1.07" height="1.22" fill="#3030c8"/><rect x="403.73" y="155.5" width="2.56" height="1.57" fill="#3030c8"/><rect x="404.43" y="156.78" width="2.36" height="1.48" fill="#3030c8"/><path d="M404.9,122.25 C409.26,124.01 409.26,142.49 404.9,144.25 C400.54,142.49 400.54,124.01 404.9,122.25 Z" fill="none" stroke="#3232c8" stroke-width="0.8"/><ellipse cx="404.9" cy="133.25" rx="1.4" ry="3.63" fill="none" stroke="#3232c8" stroke-width="0.6"/><rect x="403.24" y="118.25" width="2.54" height="1.52" fill="#1a1aa8"/><rect x="403.59" y="119.1" width="1.29" height="0.9" fill="#1a1aa8"/><rect x="403.64" y="119.63" width="2.39" height="1.26" fill="#1a1aa8"/><rect x="404.51" y="120.79" width="1.1" height="1.61" fill="#1a1aa8"/><rect x="403.24" y="121.87" width="2.53" height="0.82" fill="#1a1aa8"/><rect x="403.91" y="122.61" width="2.53" height="1.34" fill="#1a1aa8"/><rect x="403.2" y="111.18" width="0.8" height="0.8" fill="#7070b0"/><rect x="407.36" y="116.87" width="0.8" height="0.8" fill="#7070b0"/><rect x="402.59" y="108.69" width="0.8" height="0.8" fill="#7070b0"/><ellipse cx="421" cy="179.3" rx="6.9" ry="21.3" fill="#e0e0f8" stroke="#3232c8" stroke-width="0.6"/><ellipse cx="421" cy="179.3" rx="6.5" ry="19.2" fill="none" stroke="#3232c8" stroke-width="0.5"/><ellipse cx="421" cy="179.3" rx="6.2" ry="17.3" fill="#b0b0ee" stroke="#3232c8" stroke-width="0.5"/><ellipse cx="421" cy="179.3" rx="5.9" ry="15.4" fill="#1010e8" stroke="none" stroke-width="0"/><ellipse cx="421" cy="179.3" rx="4.13" ry="13.09" fill="#14c4f0" stroke="none" stroke-width="0"/><ellipse cx="421" cy="179.3" rx="3.3" ry="10.78" fill="#2cbc2c" stroke="none" stroke-width="0"/><ellipse cx="421" cy="179.3" rx="2.6" ry="8.78" fill="#e8e41a" stroke="none" stroke-width="0"/><ellipse cx="421" cy="179.3" rx="2.01" ry="6.62" fill="#ff8a12" stroke="none" stroke-width="0"/><ellipse cx="421" cy="179.3" rx="1.3" ry="4" fill="#ee1e1e" stroke="none" stroke-width="0"/><rect x="420.72" y="130.4" width="1.84" height="0.96" fill="#2424c0"/><rect x="420.9" y="131.38" width="1.11" height="1.54" fill="#2424c0"/><rect x="418.61" y="132.58" width="3.37" height="1.35" fill="#2424c0"/><rect x="419.66" y="133.39" width="3.25" height="1.45" fill="#2424c0"/><rect x="418.96" y="134.34" width="2.82" height="1.29" fill="#2424c0"/><rect x="420.32" y="135.21" width="1.3" height="0.96" fill="#2424c0"/><rect x="420.56" y="135.4" width="1.46" height="0.94" fill="#3030c8"/><rect x="419.45" y="135.94" width="1.62" height="1.42" fill="#3030c8"/><rect x="419.59" y="138.2" width="3.99" height="0.92" fill="#3030c8"/><rect x="419.14" y="140.13" width="2.43" height="0.84" fill="#3030c8"/><rect x="419.42" y="142.08" width="3.01" height="1.54" fill="#3030c8"/><rect x="419.94" y="143.47" width="2.53" height="1.52" fill="#3030c8"/><rect x="420.75" y="144.53" width="1.18" height="0.92" fill="#3030c8"/><rect x="418.73" y="145.93" width="3.79" height="0.84" fill="#3030c8"/><rect x="420.61" y="147.05" width="1.87" height="0.86" fill="#3030c8"/><rect x="419.42" y="148.06" width="2.57" height="0.87" fill="#3030c8"/><rect x="418.23" y="149.98" width="4.13" height="0.81" fill="#3030c8"/><rect x="420.13" y="151.86" width="1.68" height="1.37" fill="#3030c8"/><rect x="419.96" y="153.07" width="1.65" height="0.96" fill="#3030c8"/><rect x="418.38" y="155.18" width="3.96" height="1.7" fill="#3030c8"/><rect x="420.77" y="156.58" width="1.18" height="1.6" fill="#3030c8"/><rect x="420.97" y="157.93" width="1.05" height="1.68" fill="#3030c8"/><path d="M421,112.4 C425.36,113.84 425.36,128.96 421,130.4 C416.64,128.96 416.64,113.84 421,112.4 Z" fill="none" stroke="#3232c8" stroke-width="0.8"/><ellipse cx="421" cy="121.4" rx="1.4" ry="2.97" fill="none" stroke="#3232c8" stroke-width="0.6"/><rect x="421.03" y="108.4" width="1" height="0.84" fill="#1a1aa8"/><rect x="420.81" y="109.13" width="1.7" height="0.89" fill="#1a1aa8"/><rect x="419.88" y="109.72" width="1.22" height="1.27" fill="#1a1aa8"/><rect x="419.67" y="110.81" width="1.31" height="1.41" fill="#1a1aa8"/><rect x="419.74" y="111.63" width="1.79" height="1.31" fill="#1a1aa8"/><rect x="420.43" y="112.45" width="2.13" height="1.31" fill="#1a1aa8"/><rect x="418.83" y="98.63" width="0.8" height="0.8" fill="#7070b0"/><rect x="420.54" y="104.46" width="0.8" height="0.8" fill="#7070b0"/><rect x="418.78" y="104.34" width="0.8" height="0.8" fill="#7070b0"/><ellipse cx="437.1" cy="179.3" rx="6.9" ry="21.3" fill="#e0e0f8" stroke="#3232c8" stroke-width="0.6"/><ellipse cx="437.1" cy="179.3" rx="6.5" ry="19.2" fill="none" stroke="#3232c8" stroke-width="0.5"/><ellipse cx="437.1" cy="179.3" rx="6.2" ry="17.3" fill="#b0b0ee" stroke="#3232c8" stroke-width="0.5"/><ellipse cx="437.1" cy="179.3" rx="5.9" ry="15.4" fill="#1010e8" stroke="none" stroke-width="0"/><ellipse cx="437.1" cy="179.3" rx="4.13" ry="13.09" fill="#14c4f0" stroke="none" stroke-width="0"/><ellipse cx="437.1" cy="179.3" rx="3.3" ry="10.78" fill="#2cbc2c" stroke="none" stroke-width="0"/><ellipse cx="437.1" cy="179.3" rx="2.6" ry="8.78" fill="#e8e41a" stroke="none" stroke-width="0"/><ellipse cx="437.1" cy="179.3" rx="2.01" ry="6.62" fill="#ff8a12" stroke="none" stroke-width="0"/><ellipse cx="437.1" cy="179.3" rx="1.3" ry="4" fill="#ee1e1e" stroke="none" stroke-width="0"/><rect x="436.74" y="125.5" width="1.8" height="1.51" fill="#2424c0"/><rect x="437.24" y="126.76" width="1.04" height="1.19" fill="#2424c0"/><rect x="435.78" y="127.66" width="1.64" height="1.57" fill="#2424c0"/><rect x="436.2" y="128.94" width="1.39" height="1.07" fill="#2424c0"/><rect x="435.89" y="129.82" width="2.25" height="0.7" fill="#2424c0"/><rect x="436.25" y="130.47" width="2.72" height="0.82" fill="#2424c0"/><rect x="435.27" y="130.5" width="3.28" height="1.02" fill="#3030c8"/><rect x="435.93" y="132.26" width="3.79" height="0.76" fill="#3030c8"/><rect x="435.81" y="133.47" width="2.7" height="1.21" fill="#3030c8"/><rect x="435.73" y="134.17" width="1.72" height="1.67" fill="#3030c8"/><rect x="434.54" y="135.26" width="3.61" height="0.95" fill="#3030c8"/><rect x="435.52" y="135.93" width="1.62" height="1.4" fill="#3030c8"/><rect x="436.09" y="137.66" width="2.67" height="1.28" fill="#3030c8"/><rect x="434.72" y="138.53" width="3.29" height="1.57" fill="#3030c8"/><rect x="435.45" y="139.59" width="2.6" height="1.19" fill="#3030c8"/><rect x="436.53" y="140.44" width="1.44" height="1.11" fill="#3030c8"/><rect x="436.08" y="142.43" width="2.83" height="0.85" fill="#3030c8"/><rect x="434.92" y="143.15" width="4" height="1.53" fill="#3030c8"/><rect x="435.59" y="144.67" width="2.68" height="1.54" fill="#3030c8"/><rect x="435.64" y="147.02" width="2.08" height="1.48" fill="#3030c8"/><rect x="435.52" y="148.37" width="4.14" height="1.14" fill="#3030c8"/><rect x="434.53" y="150.45" width="3.71" height="1.52" fill="#3030c8"/><rect x="434.7" y="152.11" width="3.99" height="1.66" fill="#3030c8"/><rect x="436.07" y="153.7" width="2.17" height="1.33" fill="#3030c8"/><rect x="435.03" y="154.55" width="2.62" height="1.13" fill="#3030c8"/><rect x="436.06" y="155.39" width="3.49" height="1.67" fill="#3030c8"/><rect x="435.8" y="157.32" width="3.83" height="1.51" fill="#3030c8"/><path d="M437.1,102.5 C441.46,104.34 441.46,123.66 437.1,125.5 C432.74,123.66 432.74,104.34 437.1,102.5 Z" fill="none" stroke="#3232c8" stroke-width="0.8"/><ellipse cx="437.1" cy="114" rx="1.4" ry="3.8" fill="none" stroke="#3232c8" stroke-width="0.6"/><rect x="436.67" y="98.5" width="1.43" height="1.34" fill="#1a1aa8"/><rect x="436.05" y="99.37" width="2.48" height="1.24" fill="#1a1aa8"/><rect x="436.97" y="100.18" width="1.69" height="1.22" fill="#1a1aa8"/><rect x="435.47" y="101" width="2.04" height="1.01" fill="#1a1aa8"/><rect x="435.82" y="101.85" width="1.82" height="1.66" fill="#1a1aa8"/><rect x="435.88" y="102.99" width="1.24" height="1.23" fill="#1a1aa8"/><rect x="436.63" y="89.73" width="0.8" height="0.8" fill="#7070b0"/><rect x="435.82" y="89.67" width="0.8" height="0.8" fill="#7070b0"/><rect x="437.33" y="87.47" width="0.8" height="0.8" fill="#7070b0"/><ellipse cx="453.2" cy="179.3" rx="6.9" ry="21.3" fill="#e0e0f8" stroke="#3232c8" stroke-width="0.6"/><ellipse cx="453.2" cy="179.3" rx="6.5" ry="19.2" fill="none" stroke="#3232c8" stroke-width="0.5"/><ellipse cx="453.2" cy="179.3" rx="6.2" ry="17.3" fill="#b0b0ee" stroke="#3232c8" stroke-width="0.5"/><ellipse cx="453.2" cy="179.3" rx="5.9" ry="15.4" fill="#1010e8" stroke="none" stroke-width="0"/><ellipse cx="453.2" cy="179.3" rx="4.13" ry="13.09" fill="#14c4f0" stroke="none" stroke-width="0"/><ellipse cx="453.2" cy="179.3" rx="3.3" ry="10.78" fill="#2cbc2c" stroke="none" stroke-width="0"/><ellipse cx="453.2" cy="179.3" rx="2.6" ry="8.78" fill="#e8e41a" stroke="none" stroke-width="0"/><ellipse cx="453.2" cy="179.3" rx="2.01" ry="6.62" fill="#ff8a12" stroke="none" stroke-width="0"/><ellipse cx="453.2" cy="179.3" rx="1.3" ry="4" fill="#ee1e1e" stroke="none" stroke-width="0"/><rect x="452.08" y="114" width="2.46" height="1.54" fill="#2424c0"/><rect x="451.78" y="115.17" width="2.7" height="0.9" fill="#2424c0"/><rect x="451.83" y="115.94" width="2.13" height="1.31" fill="#2424c0"/><rect x="451.9" y="116.78" width="2.23" height="0.92" fill="#2424c0"/><rect x="452.86" y="117.58" width="1.85" height="0.71" fill="#2424c0"/><rect x="451.77" y="118.1" width="2.18" height="1.26" fill="#2424c0"/><rect x="450.92" y="119" width="3.47" height="1" fill="#3030c8"/><rect x="451.3" y="119.65" width="2.41" height="1.57" fill="#3030c8"/><rect x="450.9" y="121.14" width="3.35" height="1.14" fill="#3030c8"/><rect x="450.97" y="122.13" width="3.36" height="1.66" fill="#3030c8"/><rect x="451.81" y="123.58" width="3.16" height="1.05" fill="#3030c8"/><rect x="452.25" y="125.52" width="2.66" height="1.52" fill="#3030c8"/><rect x="452.4" y="127.54" width="2.52" height="1.46" fill="#3030c8"/><rect x="453.09" y="129.48" width="1.41" height="1.61" fill="#3030c8"/><rect x="451.76" y="130.37" width="2.87" height="1.47" fill="#3030c8"/><rect x="452.49" y="132.72" width="2.34" height="1.27" fill="#3030c8"/><rect x="452.02" y="134.82" width="2.21" height="1.31" fill="#3030c8"/><rect x="452.06" y="136.27" width="1.94" height="1.42" fill="#3030c8"/><rect x="452.64" y="137.94" width="2.03" height="1.08" fill="#3030c8"/><rect x="451.48" y="139.9" width="2.42" height="1.2" fill="#3030c8"/><rect x="451.91" y="141.04" width="2.84" height="0.84" fill="#3030c8"/><rect x="452.73" y="141.65" width="2.04" height="1.62" fill="#3030c8"/><rect x="452.26" y="143.88" width="1.65" height="1.66" fill="#3030c8"/><rect x="452.73" y="146.25" width="1.15" height="0.71" fill="#3030c8"/><rect x="451.52" y="147.44" width="3.48" height="1.62" fill="#3030c8"/><rect x="452.17" y="149.92" width="2.66" height="1.22" fill="#3030c8"/><rect x="451.51" y="151.22" width="2.9" height="1.06" fill="#3030c8"/><rect x="451.22" y="153.32" width="2.68" height="1.38" fill="#3030c8"/><rect x="451.92" y="154.67" width="2.8" height="1.1" fill="#3030c8"/><rect x="451.83" y="156.68" width="2.56" height="1.66" fill="#3030c8"/><path d="M453.2,91 C457.56,92.84 457.56,112.16 453.2,114 C448.84,112.16 448.84,92.84 453.2,91 Z" fill="none" stroke="#3232c8" stroke-width="0.8"/><ellipse cx="453.2" cy="102.5" rx="1.4" ry="3.8" fill="none" stroke="#3232c8" stroke-width="0.6"/><rect x="452.47" y="87" width="1.55" height="1.7" fill="#1a1aa8"/><rect x="453.21" y="88.34" width="1.51" height="0.87" fill="#1a1aa8"/><rect x="453.24" y="89.23" width="1.18" height="1.21" fill="#1a1aa8"/><rect x="452.53" y="90.24" width="2.58" height="1.52" fill="#1a1aa8"/><rect x="452.49" y="91.29" width="1.46" height="0.86" fill="#1a1aa8"/><rect x="451.61" y="77.07" width="0.8" height="0.8" fill="#7070b0"/><rect x="453.72" y="81.93" width="0.8" height="0.8" fill="#7070b0"/><rect x="455.67" y="78.89" width="0.8" height="0.8" fill="#7070b0"/><ellipse cx="469.3" cy="179.3" rx="6.9" ry="21.3" fill="#e0e0f8" stroke="#3232c8" stroke-width="0.6"/><ellipse cx="469.3" cy="179.3" rx="6.5" ry="19.2" fill="none" stroke="#3232c8" stroke-width="0.5"/><ellipse cx="469.3" cy="179.3" rx="6.2" ry="17.3" fill="#b0b0ee" stroke="#3232c8" stroke-width="0.5"/><ellipse cx="469.3" cy="179.3" rx="5.9" ry="15.4" fill="#1010e8" stroke="none" stroke-width="0"/><ellipse cx="469.3" cy="179.3" rx="4.13" ry="13.09" fill="#14c4f0" stroke="none" stroke-width="0"/><ellipse cx="469.3" cy="179.3" rx="3.3" ry="10.78" fill="#2cbc2c" stroke="none" stroke-width="0"/><ellipse cx="469.3" cy="179.3" rx="2.6" ry="8.78" fill="#e8e41a" stroke="none" stroke-width="0"/><ellipse cx="469.3" cy="179.3" rx="2.01" ry="6.62" fill="#ff8a12" stroke="none" stroke-width="0"/><ellipse cx="469.3" cy="179.3" rx="1.3" ry="4" fill="#ee1e1e" stroke="none" stroke-width="0"/><rect x="468.61" y="102.55" width="1.1" height="1.34" fill="#2424c0"/><rect x="467.18" y="103.68" width="2.66" height="1.01" fill="#2424c0"/><rect x="468.37" y="104.38" width="2.41" height="1.54" fill="#2424c0"/><rect x="467.76" y="105.33" width="2.33" height="1.2" fill="#2424c0"/><rect x="467.72" y="106.31" width="3.39" height="1.23" fill="#2424c0"/><rect x="469.03" y="107.2" width="1.38" height="0.82" fill="#2424c0"/><rect x="468.56" y="107.55" width="1.55" height="0.8" fill="#3030c8"/><rect x="466.81" y="109.31" width="3.58" height="1.31" fill="#3030c8"/><rect x="468.63" y="110.05" width="2.03" height="1.47" fill="#3030c8"/><rect x="467.73" y="111.42" width="1.85" height="0.87" fill="#3030c8"/><rect x="468.16" y="113.35" width="2.12" height="1.28" fill="#3030c8"/><rect x="467.51" y="114.67" width="3.85" height="0.75" fill="#3030c8"/><rect x="467.41" y="116.62" width="2.98" height="1.14" fill="#3030c8"/><rect x="467.14" y="117.32" width="3.74" height="1.63" fill="#3030c8"/><rect x="468.48" y="119.65" width="1.97" height="1.52" fill="#3030c8"/><rect x="466.87" y="122.02" width="4.04" height="1.2" fill="#3030c8"/><rect x="468.14" y="123.3" width="1.71" height="1.42" fill="#3030c8"/><rect x="467.12" y="125.49" width="3.54" height="1.18" fill="#3030c8"/><rect x="469.26" y="126.41" width="1.6" height="1.06" fill="#3030c8"/><rect x="468.67" y="127.46" width="1.37" height="1.26" fill="#3030c8"/><rect x="468.09" y="128.77" width="1.21" height="1.1" fill="#3030c8"/><rect x="467.91" y="130.7" width="1.78" height="1.05" fill="#3030c8"/><rect x="469.01" y="131.73" width="1.11" height="0.94" fill="#3030c8"/><rect x="467.02" y="132.79" width="3.26" height="0.86" fill="#3030c8"/><rect x="468.5" y="133.7" width="1.41" height="1.54" fill="#3030c8"/><rect x="468.31" y="135.88" width="1.51" height="1.5" fill="#3030c8"/><rect x="466.8" y="137.86" width="4.07" height="1.08" fill="#3030c8"/><rect x="468.36" y="139.98" width="1.73" height="1.2" fill="#3030c8"/><rect x="469.02" y="140.85" width="1.83" height="1.41" fill="#3030c8"/><rect x="468.58" y="142.56" width="1.79" height="1.07" fill="#3030c8"/><rect x="468.62" y="143.49" width="1.39" height="1.57" fill="#3030c8"/><rect x="467.38" y="145.22" width="3.47" height="0.97" fill="#3030c8"/><rect x="468.13" y="146.81" width="1.99" height="1.27" fill="#3030c8"/><rect x="467.15" y="147.64" width="3.72" height="0.88" fill="#3030c8"/><rect x="467.68" y="149.19" width="2.8" height="0.81" fill="#3030c8"/><rect x="468.39" y="150.43" width="1.21" height="1" fill="#3030c8"/><rect x="467.31" y="151.34" width="3.29" height="0.83" fill="#3030c8"/><rect x="468.17" y="152.44" width="3.48" height="1.61" fill="#3030c8"/><rect x="467.6" y="154.7" width="1.88" height="0.83" fill="#3030c8"/><rect x="468.1" y="156.25" width="2.12" height="1.36" fill="#3030c8"/><path d="M469.3,82.95 C473.66,84.52 473.66,100.98 469.3,102.55 C464.94,100.98 464.94,84.52 469.3,82.95 Z" fill="none" stroke="#3232c8" stroke-width="0.8"/><ellipse cx="469.3" cy="92.75" rx="1.4" ry="3.23" fill="none" stroke="#3232c8" stroke-width="0.6"/><rect x="469.16" y="78.95" width="1.4" height="1.4" fill="#1a1aa8"/><rect x="468.04" y="79.9" width="1.29" height="1.33" fill="#1a1aa8"/><rect x="467.49" y="81.08" width="2.14" height="1.43" fill="#1a1aa8"/><rect x="468.33" y="81.89" width="1.32" height="0.86" fill="#1a1aa8"/><rect x="468.77" y="82.56" width="1.5" height="0.74" fill="#1a1aa8"/><rect x="468.69" y="83.05" width="1.91" height="1.54" fill="#1a1aa8"/><rect x="470.22" y="71.73" width="0.8" height="0.8" fill="#7070b0"/><rect x="466.8" y="70.79" width="0.8" height="0.8" fill="#7070b0"/><rect x="470.68" y="76.13" width="0.8" height="0.8" fill="#7070b0"/><ellipse cx="485.4" cy="179.3" rx="6.9" ry="21.3" fill="#e0e0f8" stroke="#3232c8" stroke-width="0.6"/><ellipse cx="485.4" cy="179.3" rx="6.5" ry="19.2" fill="none" stroke="#3232c8" stroke-width="0.5"/><ellipse cx="485.4" cy="179.3" rx="6.2" ry="17.3" fill="#b0b0ee" stroke="#3232c8" stroke-width="0.5"/><ellipse cx="485.4" cy="179.3" rx="5.9" ry="15.4" fill="#1010e8" stroke="none" stroke-width="0"/><ellipse cx="485.4" cy="179.3" rx="4.13" ry="13.09" fill="#14c4f0" stroke="none" stroke-width="0"/><ellipse cx="485.4" cy="179.3" rx="3.3" ry="10.78" fill="#2cbc2c" stroke="none" stroke-width="0"/><ellipse cx="485.4" cy="179.3" rx="2.6" ry="8.78" fill="#e8e41a" stroke="none" stroke-width="0"/><ellipse cx="485.4" cy="179.3" rx="2.01" ry="6.62" fill="#ff8a12" stroke="none" stroke-width="0"/><ellipse cx="485.4" cy="179.3" rx="1.3" ry="4" fill="#ee1e1e" stroke="none" stroke-width="0"/><rect x="485.42" y="92.7" width="1.1" height="0.99" fill="#2424c0"/><rect x="483.98" y="93.55" width="1.59" height="0.75" fill="#2424c0"/><rect x="484.2" y="94.35" width="3.19" height="0.91" fill="#2424c0"/><rect x="484.82" y="94.9" width="1.94" height="1.39" fill="#2424c0"/><rect x="485.51" y="96.08" width="1.22" height="0.98" fill="#2424c0"/><rect x="484.45" y="96.83" width="2.66" height="1.63" fill="#2424c0"/><rect x="483.46" y="97.7" width="2.45" height="1.33" fill="#3030c8"/><rect x="484.77" y="99.55" width="2.64" height="1.13" fill="#3030c8"/><rect x="485.15" y="100.37" width="1.14" height="1.46" fill="#3030c8"/><rect x="484.78" y="102.47" width="2.75" height="0.96" fill="#3030c8"/><rect x="483.8" y="104.01" width="1.8" height="1.24" fill="#3030c8"/><rect x="484.27" y="105.27" width="1.64" height="1.11" fill="#3030c8"/><rect x="483.41" y="106.1" width="3.15" height="1.41" fill="#3030c8"/><rect x="484.89" y="107.26" width="2.42" height="1.22" fill="#3030c8"/><rect x="482.91" y="108.49" width="3.83" height="1" fill="#3030c8"/><rect x="483.67" y="109.94" width="3.61" height="1.03" fill="#3030c8"/><rect x="483.99" y="111.73" width="3.13" height="0.87" fill="#3030c8"/><rect x="482.95" y="112.94" width="3.66" height="1.47" fill="#3030c8"/><rect x="483.87" y="114.21" width="1.66" height="1.06" fill="#3030c8"/><rect x="483.69" y="115.25" width="3.25" height="0.9" fill="#3030c8"/><rect x="483.93" y="115.92" width="2.5" height="1.02" fill="#3030c8"/><rect x="485.67" y="116.75" width="1.03" height="0.77" fill="#3030c8"/><rect x="484.52" y="118.38" width="3.29" height="0.78" fill="#3030c8"/><rect x="484.01" y="119.71" width="2.56" height="0.81" fill="#3030c8"/><rect x="485.56" y="120.46" width="1.03" height="1.24" fill="#3030c8"/><rect x="483.65" y="122.17" width="3.99" height="1.33" fill="#3030c8"/><rect x="483.92" y="123.31" width="1.44" height="0.95" fill="#3030c8"/><rect x="483.92" y="125.07" width="1.95" height="1.54" fill="#3030c8"/><rect x="482.89" y="126.93" width="3.97" height="1.55" fill="#3030c8"/><rect x="483.43" y="129.04" width="3.38" height="1.53" fill="#3030c8"/><rect x="484.18" y="130.18" width="2.02" height="1.53" fill="#3030c8"/><rect x="483.15" y="131.9" width="3.66" height="1.07" fill="#3030c8"/><rect x="484.41" y="132.55" width="3.01" height="1.27" fill="#3030c8"/><rect x="483.38" y="134.38" width="4.02" height="1.61" fill="#3030c8"/><rect x="484.55" y="136.06" width="1.96" height="0.86" fill="#3030c8"/><rect x="484.55" y="136.66" width="1.52" height="1.39" fill="#3030c8"/><rect x="484.74" y="138.97" width="1.13" height="0.79" fill="#3030c8"/><rect x="485.44" y="139.71" width="1.01" height="1.42" fill="#3030c8"/><rect x="483.87" y="141.87" width="2.36" height="1.49" fill="#3030c8"/><rect x="483.97" y="143.74" width="2.35" height="1.21" fill="#3030c8"/><rect x="484.22" y="145.11" width="3.64" height="1.37" fill="#3030c8"/><rect x="484.29" y="146.13" width="2.42" height="1" fill="#3030c8"/><rect x="484.48" y="147.23" width="1.27" height="0.9" fill="#3030c8"/><rect x="484.03" y="148.46" width="3.91" height="1.67" fill="#3030c8"/><rect x="484.41" y="150.94" width="2.98" height="1.66" fill="#3030c8"/><rect x="483.6" y="151.95" width="2.95" height="1.38" fill="#3030c8"/><rect x="484.37" y="153.62" width="2.54" height="1.65" fill="#3030c8"/><rect x="482.73" y="155.01" width="3.83" height="1.04" fill="#3030c8"/><rect x="483.52" y="155.88" width="2.43" height="1.38" fill="#3030c8"/><rect x="483.84" y="157.7" width="2.86" height="1.07" fill="#3030c8"/><path d="M485.4,74.7 C489.76,76.14 489.76,91.26 485.4,92.7 C481.04,91.26 481.04,76.14 485.4,74.7 Z" fill="none" stroke="#3232c8" stroke-width="0.8"/><ellipse cx="485.4" cy="83.7" rx="1.4" ry="2.97" fill="none" stroke="#3232c8" stroke-width="0.6"/><rect x="483.97" y="70.7" width="1.63" height="1.26" fill="#1a1aa8"/><rect x="483.84" y="71.49" width="1.88" height="1.59" fill="#1a1aa8"/><rect x="484.87" y="72.79" width="1.15" height="0.95" fill="#1a1aa8"/><rect x="484.02" y="73.44" width="1.89" height="1.19" fill="#1a1aa8"/><rect x="484.63" y="74.38" width="1.82" height="0.81" fill="#1a1aa8"/><rect x="484.74" y="74.87" width="1.12" height="1.11" fill="#1a1aa8"/><rect x="486.47" y="64.76" width="0.8" height="0.8" fill="#7070b0"/><rect x="483.47" y="67.03" width="0.8" height="0.8" fill="#7070b0"/><rect x="486.51" y="69.6" width="0.8" height="0.8" fill="#7070b0"/><line x1="355.8" y1="37" x2="355.8" y2="206.5" stroke="#404040" stroke-width="1.1"/><line x1="355.5" y1="206.8" x2="502" y2="206.8" stroke="#44546a" stroke-width="1.6"/><line x1="353.6" y1="49" x2="355.8" y2="49" stroke="#333" stroke-width="0.9"/><text x="349.3" y="51.4" text-anchor="end" font-family="Liberation Serif, serif" font-size="7.2" fill="#555">10</text><text x="352.5" y="48.2" text-anchor="end" font-family="Liberation Serif, serif" font-size="5.04" fill="#555">5</text><line x1="353.6" y1="86" x2="355.8" y2="86" stroke="#333" stroke-width="0.9"/><text x="349.3" y="88.4" text-anchor="end" font-family="Liberation Serif, serif" font-size="7.2" fill="#555">10</text><text x="352.5" y="85.2" text-anchor="end" font-family="Liberation Serif, serif" font-size="5.04" fill="#555">4</text><line x1="353.6" y1="124.6" x2="355.8" y2="124.6" stroke="#333" stroke-width="0.9"/><text x="349.3" y="127" text-anchor="end" font-family="Liberation Serif, serif" font-size="7.2" fill="#555">10</text><text x="352.5" y="123.8" text-anchor="end" font-family="Liberation Serif, serif" font-size="5.04" fill="#555">3</text><line x1="353.6" y1="166" x2="355.8" y2="166" stroke="#333" stroke-width="0.9"/><text x="349.3" y="168.4" text-anchor="end" font-family="Liberation Serif, serif" font-size="7.2" fill="#555">10</text><text x="352.5" y="165.2" text-anchor="end" font-family="Liberation Serif, serif" font-size="5.04" fill="#555">2</text><line x1="353.6" y1="182.7" x2="355.8" y2="182.7" stroke="#333" stroke-width="0.9"/><text x="349.3" y="185.1" text-anchor="end" font-family="Liberation Serif, serif" font-size="7.2" fill="#555">-10</text><text x="352.5" y="181.9" text-anchor="end" font-family="Liberation Serif, serif" font-size="5.04" fill="#555">1</text><line x1="353.6" y1="196.5" x2="355.8" y2="196.5" stroke="#333" stroke-width="0.9"/><text x="349.3" y="198.9" text-anchor="end" font-family="Liberation Serif, serif" font-size="7.2" fill="#555">-10</text><text x="352.5" y="195.7" text-anchor="end" font-family="Liberation Serif, serif" font-size="5.04" fill="#555">2</text><text transform="translate(372.86,210.5) rotate(-45)" text-anchor="end" font-family="Liberation Sans, sans-serif" font-size="10.3" fill="#1a1a1a" stroke="#1a1a1a" stroke-width="0.1" dy="7.42">16</text><text transform="translate(386.86,209.8) rotate(-45)" text-anchor="end" font-family="Liberation Sans, sans-serif" font-size="10.3" fill="#1a1a1a" stroke="#1a1a1a" stroke-width="0.1" dy="7.42">32</text><text transform="translate(402.46,210.5) rotate(-45)" text-anchor="end" font-family="Liberation Sans, sans-serif" font-size="10.3" fill="#1a1a1a" stroke="#1a1a1a" stroke-width="0.1" dy="7.42">64</text><text transform="translate(421.16,209.2) rotate(-45)" text-anchor="end" font-family="Liberation Sans, sans-serif" font-size="10.3" fill="#1a1a1a" stroke="#1a1a1a" stroke-width="0.1" dy="7.42">125</text><text transform="translate(437.16,209.8) rotate(-45)" text-anchor="end" font-family="Liberation Sans, sans-serif" font-size="10.3" fill="#1a1a1a" stroke="#1a1a1a" stroke-width="0.1" dy="7.42">250</text><text transform="translate(453.16,210.2) rotate(-45)" text-anchor="end" font-family="Liberation Sans, sans-serif" font-size="10.3" fill="#1a1a1a" stroke="#1a1a1a" stroke-width="0.1" dy="7.42">500</text><text transform="translate(468.76,210.5) rotate(-45)" text-anchor="end" font-family="Liberation Sans, sans-serif" font-size="10.3" fill="#1a1a1a" stroke="#1a1a1a" stroke-width="0.1" dy="7.42">1000</text><text transform="translate(484.96,209.2) rotate(-45)" text-anchor="end" font-family="Liberation Sans, sans-serif" font-size="10.3" fill="#1a1a1a" stroke="#1a1a1a" stroke-width="0.1" dy="7.42">2000</text><rect x="304.4" y="416.4" width="14.7" height="129.5" fill="#dde3dd" stroke="#0e5a17" stroke-width="3.4"/><path d="M192.49,521.8 C192.49,521.05 190.81,520.48 190.81,519.91 C190.81,519.14 192.01,518.83 192.01,518.37 C192.01,506.07 195.12,498.24 196.8,496 C198.48,498.24 201.59,506.07 201.59,518.37 C201.59,518.83 202.79,519.14 202.79,519.91 C202.79,520.48 201.11,521.05 201.11,521.8 Z" fill="#eeeefb" stroke="#3434c4" stroke-width="0.8"/><path d="M193.57,514.8 C193.57,513.88 192.31,513.18 192.31,512.49 C192.31,511.54 193.21,511.17 193.21,510.6 C193.21,505.21 195.54,501.78 196.8,500.8 C198.06,501.78 200.39,505.21 200.39,510.6 C200.39,511.17 201.29,511.54 201.29,512.49 C201.29,513.18 200.03,513.88 200.03,514.8 C201.29,517.8 192.31,517.8 192.31,514.8 Z" fill="none" stroke="#3434c4" stroke-width="0.7"/><path d="M194.65,510.8 C194.65,510.46 193.81,510.2 193.81,509.94 C193.81,509.59 194.41,509.45 194.41,509.24 C194.41,507.24 195.96,505.96 196.8,505.6 C197.64,505.96 199.19,507.24 199.19,509.24 C199.19,509.45 199.79,509.59 199.79,509.94 C199.79,510.2 198.95,510.46 198.95,510.8 C199.79,513.8 193.81,513.8 193.81,510.8 Z" fill="none" stroke="#3434c4" stroke-width="0.7"/><ellipse cx="196.8" cy="525.8" rx="6.9" ry="9.8" fill="#d8d8f6" stroke="#3434c4" stroke-width="0.6"/><ellipse cx="196.8" cy="525.8" rx="6.3" ry="8.9" fill="none" stroke="#3434c4" stroke-width="0.5"/><ellipse cx="196.8" cy="525.8" rx="5.9" ry="8.2" fill="#a8a8ee" stroke="none" stroke-width="0"/><ellipse cx="196.8" cy="526.3" rx="5.5" ry="7.3" fill="#1010e8" stroke="none" stroke-width="0"/><ellipse cx="196.8" cy="526.3" rx="4.29" ry="5.84" fill="#14c4f0" stroke="none" stroke-width="0"/><ellipse cx="196.8" cy="526.3" rx="3.41" ry="4.67" fill="#2cbc2c" stroke="none" stroke-width="0"/><ellipse cx="196.8" cy="526.3" rx="2.64" ry="3.65" fill="#e8e41a" stroke="none" stroke-width="0"/><ellipse cx="196.8" cy="526.3" rx="2.04" ry="2.77" fill="#ff8a12" stroke="none" stroke-width="0"/><ellipse cx="196.8" cy="526.3" rx="1.32" ry="1.82" fill="#ee1e1e" stroke="none" stroke-width="0"/><rect x="195.3" y="489" width="2.66" height="0.8" fill="#1a1aa8"/><rect x="196.18" y="489.54" width="2.13" height="1.66" fill="#1a1aa8"/><rect x="195.82" y="490.54" width="1.12" height="1.48" fill="#1a1aa8"/><rect x="195.25" y="491.57" width="2.19" height="0.72" fill="#1a1aa8"/><rect x="196.5" y="492.15" width="1.85" height="1.41" fill="#1a1aa8"/><rect x="196.41" y="493.29" width="2.13" height="1.57" fill="#1a1aa8"/><rect x="195.3" y="494.68" width="2.49" height="0.87" fill="#1a1aa8"/><rect x="194.87" y="495.62" width="2.65" height="1.38" fill="#1a1aa8"/><rect x="198.59" y="486.69" width="0.8" height="0.8" fill="#7070b0"/><rect x="194.97" y="486.61" width="0.8" height="0.8" fill="#7070b0"/><rect x="195.2" y="486.02" width="0.8" height="0.8" fill="#7070b0"/><path d="M208.99,521.8 C208.99,518.79 207.34,516.52 207.34,514.26 C207.34,511.18 208.52,509.95 208.52,508.1 C208.52,495.94 211.59,488.21 213.24,486 C214.89,488.21 217.96,495.94 217.96,508.1 C217.96,509.95 219.14,511.18 219.14,514.26 C219.14,516.52 217.49,518.79 217.49,521.8 Z" fill="#eeeefb" stroke="#3434c4" stroke-width="0.8"/><path d="M210.07,514.8 C210.07,513.22 208.84,512.03 208.84,510.84 C208.84,509.22 209.72,508.57 209.72,507.6 C209.72,498.36 212.01,492.48 213.24,490.8 C214.47,492.48 216.76,498.36 216.76,507.6 C216.76,508.57 217.64,509.22 217.64,510.84 C217.64,512.03 216.41,513.22 216.41,514.8 C217.64,517.8 208.84,517.8 208.84,514.8 Z" fill="none" stroke="#3434c4" stroke-width="0.7"/><path d="M211.15,510.8 C211.15,509.8 210.34,509.04 210.34,508.29 C210.34,507.27 210.92,506.86 210.92,506.24 C210.92,500.39 212.43,496.66 213.24,495.6 C214.05,496.66 215.56,500.39 215.56,506.24 C215.56,506.86 216.14,507.27 216.14,508.29 C216.14,509.04 215.33,509.8 215.33,510.8 C216.14,513.8 210.34,513.8 210.34,510.8 Z" fill="none" stroke="#3434c4" stroke-width="0.7"/><path d="M212.23,506.8 C212.23,506.38 211.84,506.06 211.84,505.74 C211.84,505.31 212.12,505.14 212.12,504.88 C212.12,502.42 212.85,500.85 213.24,500.4 C213.63,500.85 214.36,502.42 214.36,504.88 C214.36,505.14 214.64,505.31 214.64,505.74 C214.64,506.06 214.25,506.38 214.25,506.8 C214.64,509.8 211.84,509.8 211.84,506.8 Z" fill="none" stroke="#3434c4" stroke-width="0.7"/><ellipse cx="213.24" cy="502.4" rx="1.4" ry="6.56" fill="none" stroke="#3434c4" stroke-width="0.7"/><ellipse cx="213.24" cy="525.8" rx="6.9" ry="9.8" fill="#d8d8f6" stroke="#3434c4" stroke-width="0.6"/><ellipse cx="213.24" cy="525.8" rx="6.3" ry="8.9" fill="none" stroke="#3434c4" stroke-width="0.5"/><ellipse cx="213.24" cy="525.8" rx="5.9" ry="8.2" fill="#a8a8ee" stroke="none" stroke-width="0"/><ellipse cx="213.24" cy="526.3" rx="5.5" ry="7.3" fill="#1010e8" stroke="none" stroke-width="0"/><ellipse cx="213.24" cy="526.3" rx="4.29" ry="5.84" fill="#14c4f0" stroke="none" stroke-width="0"/><ellipse cx="213.24" cy="526.3" rx="3.41" ry="4.67" fill="#2cbc2c" stroke="none" stroke-width="0"/><ellipse cx="213.24" cy="526.3" rx="2.64" ry="3.65" fill="#e8e41a" stroke="none" stroke-width="0"/><ellipse cx="213.24" cy="526.3" rx="2.04" ry="2.77" fill="#ff8a12" stroke="none" stroke-width="0"/><ellipse cx="213.24" cy="526.3" rx="1.32" ry="1.82" fill="#ee1e1e" stroke="none" stroke-width="0"/><rect x="211.32" y="479" width="2.61" height="1.25" fill="#1a1aa8"/><rect x="211.99" y="480.24" width="1.51" height="1.38" fill="#1a1aa8"/><rect x="211.54" y="481.27" width="2.16" height="1.54" fill="#1a1aa8"/><rect x="211.44" y="482.13" width="2.6" height="0.81" fill="#1a1aa8"/><rect x="211.86" y="482.9" width="2.37" height="0.99" fill="#1a1aa8"/><rect x="212.5" y="483.53" width="2.08" height="1.58" fill="#1a1aa8"/><rect x="212.47" y="484.89" width="1.03" height="1.65" fill="#1a1aa8"/><rect x="212.35" y="485.88" width="2.75" height="1.2" fill="#1a1aa8"/><rect x="214.51" y="473.91" width="0.8" height="0.8" fill="#7070b0"/><rect x="212.81" y="476.4" width="0.8" height="0.8" fill="#7070b0"/><rect x="211.87" y="475.38" width="0.8" height="0.8" fill="#7070b0"/><path d="M225.47,521.8 C225.47,516.47 223.83,512.47 223.83,508.47 C223.83,503.02 225,500.84 225,497.57 C225,487.91 228.04,481.76 229.68,480 C231.32,481.76 234.36,487.91 234.36,497.57 C234.36,500.84 235.53,503.02 235.53,508.47 C235.53,512.47 233.89,516.47 233.89,521.8 Z" fill="#eeeefb" stroke="#3434c4" stroke-width="0.8"/><path d="M226.55,514.8 C226.55,510.18 225.33,506.71 225.33,503.25 C225.33,498.52 226.2,496.63 226.2,493.8 C226.2,488.85 228.46,485.7 229.68,484.8 C230.9,485.7 233.16,488.85 233.16,493.8 C233.16,496.63 234.03,498.52 234.03,503.25 C234.03,506.71 232.81,510.18 232.81,514.8 C234.03,517.8 225.33,517.8 225.33,514.8 Z" fill="none" stroke="#3434c4" stroke-width="0.7"/><path d="M227.63,510.8 C227.63,508.12 226.83,506.1 226.83,504.09 C226.83,501.35 227.4,500.25 227.4,498.6 C227.4,493.65 228.88,490.5 229.68,489.6 C230.48,490.5 231.96,493.65 231.96,498.6 C231.96,500.25 232.53,501.35 232.53,504.09 C232.53,506.1 231.73,508.12 231.73,510.8 C232.53,513.8 226.83,513.8 226.83,510.8 Z" fill="none" stroke="#3434c4" stroke-width="0.7"/><path d="M228.71,506.8 C228.71,505.98 228.33,505.37 228.33,504.75 C228.33,503.92 228.6,503.58 228.6,503.08 C228.6,498.31 229.3,495.27 229.68,494.4 C230.06,495.27 230.76,498.31 230.76,503.08 C230.76,503.58 231.03,503.92 231.03,504.75 C231.03,505.37 230.65,505.98 230.65,506.8 C231.03,509.8 228.33,509.8 228.33,506.8 Z" fill="none" stroke="#3434c4" stroke-width="0.7"/><ellipse cx="229.68" cy="499.4" rx="1.4" ry="7.76" fill="none" stroke="#3434c4" stroke-width="0.7"/><ellipse cx="229.68" cy="525.8" rx="6.9" ry="9.8" fill="#d8d8f6" stroke="#3434c4" stroke-width="0.6"/><ellipse cx="229.68" cy="525.8" rx="6.3" ry="8.9" fill="none" stroke="#3434c4" stroke-width="0.5"/><ellipse cx="229.68" cy="525.8" rx="5.9" ry="8.2" fill="#a8a8ee" stroke="none" stroke-width="0"/><ellipse cx="229.68" cy="526.3" rx="5.5" ry="7.3" fill="#1010e8" stroke="none" stroke-width="0"/><ellipse cx="229.68" cy="526.3" rx="4.29" ry="5.84" fill="#14c4f0" stroke="none" stroke-width="0"/><ellipse cx="229.68" cy="526.3" rx="3.41" ry="4.67" fill="#2cbc2c" stroke="none" stroke-width="0"/><ellipse cx="229.68" cy="526.3" rx="2.64" ry="3.65" fill="#e8e41a" stroke="none" stroke-width="0"/><ellipse cx="229.68" cy="526.3" rx="2.04" ry="2.77" fill="#ff8a12" stroke="none" stroke-width="0"/><ellipse cx="229.68" cy="526.3" rx="1.32" ry="1.82" fill="#ee1e1e" stroke="none" stroke-width="0"/><rect x="229.38" y="473" width="1.79" height="1.55" fill="#1a1aa8"/><rect x="228.4" y="474.22" width="1.66" height="0.78" fill="#1a1aa8"/><rect x="228.61" y="475.18" width="1.09" height="1.29" fill="#1a1aa8"/><rect x="228.42" y="476.11" width="2.15" height="1.17" fill="#1a1aa8"/><rect x="228.33" y="476.96" width="2.16" height="0.71" fill="#1a1aa8"/><rect x="227.47" y="477.36" width="2.97" height="1.16" fill="#1a1aa8"/><rect x="228.54" y="478.09" width="1.55" height="1.37" fill="#1a1aa8"/><rect x="228.66" y="479.14" width="2.14" height="0.96" fill="#1a1aa8"/><rect x="229.24" y="480.24" width="1.07" height="1.69" fill="#1a1aa8"/><rect x="230.78" y="471.36" width="0.8" height="0.8" fill="#7070b0"/><rect x="230.22" y="470.17" width="0.8" height="0.8" fill="#7070b0"/><rect x="228.81" y="468.81" width="0.8" height="0.8" fill="#7070b0"/><path d="M241.94,521.8 C241.94,513.48 240.32,507.25 240.32,501.01 C240.32,492.5 241.48,489.1 241.48,484 C241.48,477.95 244.5,474.1 246.12,473 C247.74,474.1 250.76,477.95 250.76,484 C250.76,489.1 251.92,492.5 251.92,501.01 C251.92,507.25 250.3,513.48 250.3,521.8 Z" fill="#eeeefb" stroke="#3434c4" stroke-width="0.8"/><path d="M243.02,514.8 C243.02,508.64 241.82,504.02 241.82,499.4 C241.82,493.1 242.68,490.58 242.68,486.8 C242.68,481.85 244.92,478.7 246.12,477.8 C247.32,478.7 249.56,481.85 249.56,486.8 C249.56,490.58 250.42,493.1 250.42,499.4 C250.42,504.02 249.22,508.64 249.22,514.8 C250.42,517.8 241.82,517.8 241.82,514.8 Z" fill="none" stroke="#3434c4" stroke-width="0.7"/><path d="M244.1,510.8 C244.1,506.58 243.32,503.41 243.32,500.24 C243.32,495.92 243.88,494.19 243.88,491.6 C243.88,486.65 245.34,483.5 246.12,482.6 C246.9,483.5 248.36,486.65 248.36,491.6 C248.36,494.19 248.92,495.92 248.92,500.24 C248.92,503.41 248.14,506.58 248.14,510.8 C248.92,513.8 243.32,513.8 243.32,510.8 Z" fill="none" stroke="#3434c4" stroke-width="0.7"/><path d="M245.18,506.8 C245.18,504.51 244.82,502.8 244.82,501.08 C244.82,498.74 245.08,497.8 245.08,496.4 C245.08,491.45 245.76,488.3 246.12,487.4 C246.48,488.3 247.16,491.45 247.16,496.4 C247.16,497.8 247.42,498.74 247.42,501.08 C247.42,502.8 247.06,504.51 247.06,506.8 C247.42,509.8 244.82,509.8 244.82,506.8 Z" fill="none" stroke="#3434c4" stroke-width="0.7"/><ellipse cx="246.12" cy="495.9" rx="1.4" ry="9.16" fill="none" stroke="#3434c4" stroke-width="0.7"/><ellipse cx="246.12" cy="525.8" rx="6.9" ry="9.8" fill="#d8d8f6" stroke="#3434c4" stroke-width="0.6"/><ellipse cx="246.12" cy="525.8" rx="6.3" ry="8.9" fill="none" stroke="#3434c4" stroke-width="0.5"/><ellipse cx="246.12" cy="525.8" rx="5.9" ry="8.2" fill="#a8a8ee" stroke="none" stroke-width="0"/><ellipse cx="246.12" cy="526.3" rx="5.5" ry="7.3" fill="#1010e8" stroke="none" stroke-width="0"/><ellipse cx="246.12" cy="526.3" rx="4.29" ry="5.84" fill="#14c4f0" stroke="none" stroke-width="0"/><ellipse cx="246.12" cy="526.3" rx="3.41" ry="4.67" fill="#2cbc2c" stroke="none" stroke-width="0"/><ellipse cx="246.12" cy="526.3" rx="2.64" ry="3.65" fill="#e8e41a" stroke="none" stroke-width="0"/><ellipse cx="246.12" cy="526.3" rx="2.04" ry="2.77" fill="#ff8a12" stroke="none" stroke-width="0"/><ellipse cx="246.12" cy="526.3" rx="1.32" ry="1.82" fill="#ee1e1e" stroke="none" stroke-width="0"/><rect x="245.45" y="466" width="2.75" height="1.5" fill="#1a1aa8"/><rect x="245.24" y="467.23" width="2.53" height="1" fill="#1a1aa8"/><rect x="245.35" y="468.09" width="1.7" height="1.34" fill="#1a1aa8"/><rect x="245" y="469.07" width="1.67" height="0.76" fill="#1a1aa8"/><rect x="244.84" y="470.08" width="1.73" height="1.18" fill="#1a1aa8"/><rect x="244.7" y="470.87" width="1.27" height="1.05" fill="#1a1aa8"/><rect x="245.28" y="471.97" width="1.89" height="1.15" fill="#1a1aa8"/><rect x="245.24" y="472.78" width="1.13" height="0.87" fill="#1a1aa8"/><rect x="245.77" y="473.45" width="2.1" height="1.43" fill="#1a1aa8"/><rect x="246.45" y="464.61" width="0.8" height="0.8" fill="#7070b0"/><rect x="244.83" y="460.4" width="0.8" height="0.8" fill="#7070b0"/><rect x="248.07" y="462.9" width="0.8" height="0.8" fill="#7070b0"/><path d="M258.38,521.8 C258.38,512.6 256.76,505.71 256.76,498.81 C256.76,489.4 257.92,485.64 257.92,480 C257.92,473.95 260.94,470.1 262.56,469 C264.18,470.1 267.2,473.95 267.2,480 C267.2,485.64 268.36,489.4 268.36,498.81 C268.36,505.71 266.74,512.6 266.74,521.8 Z" fill="#eeeefb" stroke="#3434c4" stroke-width="0.8"/><path d="M259.46,514.8 C259.46,507.76 258.26,502.48 258.26,497.2 C258.26,490 259.12,487.12 259.12,482.8 C259.12,477.85 261.36,474.7 262.56,473.8 C263.76,474.7 266,477.85 266,482.8 C266,487.12 266.86,490 266.86,497.2 C266.86,502.48 265.66,507.76 265.66,514.8 C266.86,517.8 258.26,517.8 258.26,514.8 Z" fill="none" stroke="#3434c4" stroke-width="0.7"/><path d="M260.54,510.8 C260.54,505.7 259.76,501.87 259.76,498.04 C259.76,492.82 260.32,490.73 260.32,487.6 C260.32,482.65 261.78,479.5 262.56,478.6 C263.34,479.5 264.8,482.65 264.8,487.6 C264.8,490.73 265.36,492.82 265.36,498.04 C265.36,501.87 264.58,505.7 264.58,510.8 C265.36,513.8 259.76,513.8 259.76,510.8 Z" fill="none" stroke="#3434c4" stroke-width="0.7"/><path d="M261.62,506.8 C261.62,503.63 261.26,501.26 261.26,498.88 C261.26,495.64 261.52,494.34 261.52,492.4 C261.52,487.45 262.2,484.3 262.56,483.4 C262.92,484.3 263.6,487.45 263.6,492.4 C263.6,494.34 263.86,495.64 263.86,498.88 C263.86,501.26 263.5,503.63 263.5,506.8 C263.86,509.8 261.26,509.8 261.26,506.8 Z" fill="none" stroke="#3434c4" stroke-width="0.7"/><ellipse cx="262.56" cy="493.9" rx="1.4" ry="9.96" fill="none" stroke="#3434c4" stroke-width="0.7"/><ellipse cx="262.56" cy="525.8" rx="6.9" ry="9.8" fill="#d8d8f6" stroke="#3434c4" stroke-width="0.6"/><ellipse cx="262.56" cy="525.8" rx="6.3" ry="8.9" fill="none" stroke="#3434c4" stroke-width="0.5"/><ellipse cx="262.56" cy="525.8" rx="5.9" ry="8.2" fill="#a8a8ee" stroke="none" stroke-width="0"/><ellipse cx="262.56" cy="526.3" rx="5.5" ry="7.3" fill="#1010e8" stroke="none" stroke-width="0"/><ellipse cx="262.56" cy="526.3" rx="4.29" ry="5.84" fill="#14c4f0" stroke="none" stroke-width="0"/><ellipse cx="262.56" cy="526.3" rx="3.41" ry="4.67" fill="#2cbc2c" stroke="none" stroke-width="0"/><ellipse cx="262.56" cy="526.3" rx="2.64" ry="3.65" fill="#e8e41a" stroke="none" stroke-width="0"/><ellipse cx="262.56" cy="526.3" rx="2.04" ry="2.77" fill="#ff8a12" stroke="none" stroke-width="0"/><ellipse cx="262.56" cy="526.3" rx="1.32" ry="1.82" fill="#ee1e1e" stroke="none" stroke-width="0"/><rect x="261.17" y="462" width="2.55" height="1.06" fill="#1a1aa8"/><rect x="262.21" y="463.1" width="1.97" height="0.77" fill="#1a1aa8"/><rect x="261.5" y="463.69" width="1.05" height="0.96" fill="#1a1aa8"/><rect x="261.68" y="464.38" width="1.44" height="1.4" fill="#1a1aa8"/><rect x="261.43" y="465.27" width="2.73" height="1.3" fill="#1a1aa8"/><rect x="261.26" y="466.1" width="2.93" height="1.43" fill="#1a1aa8"/><rect x="260.93" y="466.94" width="2.75" height="1.51" fill="#1a1aa8"/><rect x="262.12" y="467.85" width="2.07" height="0.89" fill="#1a1aa8"/><rect x="261.57" y="468.73" width="1.42" height="1.62" fill="#1a1aa8"/><rect x="262.18" y="459.24" width="0.8" height="0.8" fill="#7070b0"/><rect x="261.91" y="459.39" width="0.8" height="0.8" fill="#7070b0"/><rect x="262.22" y="456.29" width="0.8" height="0.8" fill="#7070b0"/><path d="M274.82,521.8 C274.82,511.94 273.2,504.55 273.2,497.16 C273.2,487.08 274.36,483.05 274.36,477 C274.36,470.95 277.38,467.1 279,466 C280.62,467.1 283.64,470.95 283.64,477 C283.64,483.05 284.8,487.08 284.8,497.16 C284.8,504.55 283.18,511.94 283.18,521.8 Z" fill="#eeeefb" stroke="#3434c4" stroke-width="0.8"/><path d="M275.9,514.8 C275.9,507.1 274.7,501.32 274.7,495.55 C274.7,487.68 275.56,484.53 275.56,479.8 C275.56,474.85 277.8,471.7 279,470.8 C280.2,471.7 282.44,474.85 282.44,479.8 C282.44,484.53 283.3,487.68 283.3,495.55 C283.3,501.32 282.1,507.1 282.1,514.8 C283.3,517.8 274.7,517.8 274.7,514.8 Z" fill="none" stroke="#3434c4" stroke-width="0.7"/><path d="M276.98,510.8 C276.98,505.04 276.2,500.71 276.2,496.39 C276.2,490.5 276.76,488.14 276.76,484.6 C276.76,479.65 278.22,476.5 279,475.6 C279.78,476.5 281.24,479.65 281.24,484.6 C281.24,488.14 281.8,490.5 281.8,496.39 C281.8,500.71 281.02,505.04 281.02,510.8 C281.8,513.8 276.2,513.8 276.2,510.8 Z" fill="none" stroke="#3434c4" stroke-width="0.7"/><path d="M278.06,506.8 C278.06,502.97 277.7,500.1 277.7,497.23 C277.7,493.31 277.96,491.75 277.96,489.4 C277.96,484.45 278.64,481.3 279,480.4 C279.36,481.3 280.04,484.45 280.04,489.4 C280.04,491.75 280.3,493.31 280.3,497.23 C280.3,500.1 279.94,502.97 279.94,506.8 C280.3,509.8 277.7,509.8 277.7,506.8 Z" fill="none" stroke="#3434c4" stroke-width="0.7"/><ellipse cx="279" cy="492.4" rx="1.4" ry="10.56" fill="none" stroke="#3434c4" stroke-width="0.7"/><ellipse cx="279" cy="525.8" rx="6.9" ry="9.8" fill="#d8d8f6" stroke="#3434c4" stroke-width="0.6"/><ellipse cx="279" cy="525.8" rx="6.3" ry="8.9" fill="none" stroke="#3434c4" stroke-width="0.5"/><ellipse cx="279" cy="525.8" rx="5.9" ry="8.2" fill="#a8a8ee" stroke="none" stroke-width="0"/><ellipse cx="279" cy="526.3" rx="5.5" ry="7.3" fill="#1010e8" stroke="none" stroke-width="0"/><ellipse cx="279" cy="526.3" rx="4.29" ry="5.84" fill="#14c4f0" stroke="none" stroke-width="0"/><ellipse cx="279" cy="526.3" rx="3.41" ry="4.67" fill="#2cbc2c" stroke="none" stroke-width="0"/><ellipse cx="279" cy="526.3" rx="2.64" ry="3.65" fill="#e8e41a" stroke="none" stroke-width="0"/><ellipse cx="279" cy="526.3" rx="2.04" ry="2.77" fill="#ff8a12" stroke="none" stroke-width="0"/><ellipse cx="279" cy="526.3" rx="1.32" ry="1.82" fill="#ee1e1e" stroke="none" stroke-width="0"/><rect x="277.61" y="459" width="2.25" height="0.75" fill="#1a1aa8"/><rect x="278.18" y="459.71" width="1.51" height="1.3" fill="#1a1aa8"/><rect x="278.72" y="460.43" width="2.13" height="1.63" fill="#1a1aa8"/><rect x="277.5" y="461.36" width="2.45" height="1.31" fill="#1a1aa8"/><rect x="278.78" y="462.13" width="1.29" height="0.86" fill="#1a1aa8"/><rect x="278.14" y="462.66" width="1.85" height="1.51" fill="#1a1aa8"/><rect x="278.01" y="463.85" width="2.31" height="1.25" fill="#1a1aa8"/><rect x="278.58" y="464.73" width="1.52" height="1.44" fill="#1a1aa8"/><rect x="278.63" y="465.98" width="1.62" height="1.48" fill="#1a1aa8"/><rect x="278.11" y="455.27" width="0.8" height="0.8" fill="#7070b0"/><rect x="280.76" y="455.62" width="0.8" height="0.8" fill="#7070b0"/><rect x="277.04" y="453.66" width="0.8" height="0.8" fill="#7070b0"/><path d="M291.26,521.8 C291.26,511.28 289.64,503.4 289.64,495.51 C289.64,484.75 290.8,480.45 290.8,474 C290.8,467.95 293.82,464.1 295.44,463 C297.06,464.1 300.08,467.95 300.08,474 C300.08,480.45 301.24,484.75 301.24,495.51 C301.24,503.4 299.62,511.28 299.62,521.8 Z" fill="#eeeefb" stroke="#3434c4" stroke-width="0.8"/><path d="M292.34,514.8 C292.34,506.44 291.14,500.17 291.14,493.9 C291.14,485.35 292,481.93 292,476.8 C292,471.85 294.24,468.7 295.44,467.8 C296.64,468.7 298.88,471.85 298.88,476.8 C298.88,481.93 299.74,485.35 299.74,493.9 C299.74,500.17 298.54,506.44 298.54,514.8 C299.74,517.8 291.14,517.8 291.14,514.8 Z" fill="none" stroke="#3434c4" stroke-width="0.7"/><path d="M293.42,510.8 C293.42,504.38 292.64,499.56 292.64,494.74 C292.64,488.17 293.2,485.54 293.2,481.6 C293.2,476.65 294.66,473.5 295.44,472.6 C296.22,473.5 297.68,476.65 297.68,481.6 C297.68,485.54 298.24,488.17 298.24,494.74 C298.24,499.56 297.46,504.38 297.46,510.8 C298.24,513.8 292.64,513.8 292.64,510.8 Z" fill="none" stroke="#3434c4" stroke-width="0.7"/><path d="M294.5,506.8 C294.5,502.31 294.14,498.95 294.14,495.58 C294.14,490.99 294.4,489.15 294.4,486.4 C294.4,481.45 295.08,478.3 295.44,477.4 C295.8,478.3 296.48,481.45 296.48,486.4 C296.48,489.15 296.74,490.99 296.74,495.58 C296.74,498.95 296.38,502.31 296.38,506.8 C296.74,509.8 294.14,509.8 294.14,506.8 Z" fill="none" stroke="#3434c4" stroke-width="0.7"/><ellipse cx="295.44" cy="490.9" rx="1.4" ry="11.16" fill="none" stroke="#3434c4" stroke-width="0.7"/><ellipse cx="295.44" cy="525.8" rx="6.9" ry="9.8" fill="#d8d8f6" stroke="#3434c4" stroke-width="0.6"/><ellipse cx="295.44" cy="525.8" rx="6.3" ry="8.9" fill="none" stroke="#3434c4" stroke-width="0.5"/><ellipse cx="295.44" cy="525.8" rx="5.9" ry="8.2" fill="#a8a8ee" stroke="none" stroke-width="0"/><ellipse cx="295.44" cy="526.3" rx="5.5" ry="7.3" fill="#1010e8" stroke="none" stroke-width="0"/><ellipse cx="295.44" cy="526.3" rx="4.29" ry="5.84" fill="#14c4f0" stroke="none" stroke-width="0"/><ellipse cx="295.44" cy="526.3" rx="3.41" ry="4.67" fill="#2cbc2c" stroke="none" stroke-width="0"/><ellipse cx="295.44" cy="526.3" rx="2.64" ry="3.65" fill="#e8e41a" stroke="none" stroke-width="0"/><ellipse cx="295.44" cy="526.3" rx="2.04" ry="2.77" fill="#ff8a12" stroke="none" stroke-width="0"/><ellipse cx="295.44" cy="526.3" rx="1.32" ry="1.82" fill="#ee1e1e" stroke="none" stroke-width="0"/><rect x="294.72" y="456" width="2.31" height="1.18" fill="#1a1aa8"/><rect x="295.12" y="456.86" width="1.46" height="1.69" fill="#1a1aa8"/><rect x="294.1" y="457.85" width="1.27" height="0.73" fill="#1a1aa8"/><rect x="295.46" y="458.55" width="1.36" height="1.26" fill="#1a1aa8"/><rect x="295.14" y="459.46" width="1.35" height="0.85" fill="#1a1aa8"/><rect x="295.36" y="460.48" width="1.06" height="0.86" fill="#1a1aa8"/><rect x="294.66" y="461.1" width="2" height="1.68" fill="#1a1aa8"/><rect x="294.2" y="462.23" width="1.92" height="1.5" fill="#1a1aa8"/><rect x="296.37" y="450.54" width="0.8" height="0.8" fill="#7070b0"/><rect x="296.02" y="450.33" width="0.8" height="0.8" fill="#7070b0"/><rect x="296.9" y="452.01" width="0.8" height="0.8" fill="#7070b0"/><path d="M307.7,521.8 C307.7,511.72 306.08,504.17 306.08,496.61 C306.08,486.3 307.24,482.18 307.24,476 C307.24,469.95 310.26,466.1 311.88,465 C313.5,466.1 316.52,469.95 316.52,476 C316.52,482.18 317.68,486.3 317.68,496.61 C317.68,504.17 316.06,511.72 316.06,521.8 Z" fill="#eeeefb" stroke="#3434c4" stroke-width="0.8"/><path d="M308.78,514.8 C308.78,506.88 307.58,500.94 307.58,495 C307.58,486.9 308.44,483.66 308.44,478.8 C308.44,473.85 310.68,470.7 311.88,469.8 C313.08,470.7 315.32,473.85 315.32,478.8 C315.32,483.66 316.18,486.9 316.18,495 C316.18,500.94 314.98,506.88 314.98,514.8 C316.18,517.8 307.58,517.8 307.58,514.8 Z" fill="none" stroke="#3434c4" stroke-width="0.7"/><path d="M309.86,510.8 C309.86,504.82 309.08,500.33 309.08,495.84 C309.08,489.72 309.64,487.27 309.64,483.6 C309.64,478.65 311.1,475.5 311.88,474.6 C312.66,475.5 314.12,478.65 314.12,483.6 C314.12,487.27 314.68,489.72 314.68,495.84 C314.68,500.33 313.9,504.82 313.9,510.8 C314.68,513.8 309.08,513.8 309.08,510.8 Z" fill="none" stroke="#3434c4" stroke-width="0.7"/><path d="M310.94,506.8 C310.94,502.75 310.58,499.72 310.58,496.68 C310.58,492.54 310.84,490.88 310.84,488.4 C310.84,483.45 311.52,480.3 311.88,479.4 C312.24,480.3 312.92,483.45 312.92,488.4 C312.92,490.88 313.18,492.54 313.18,496.68 C313.18,499.72 312.82,502.75 312.82,506.8 C313.18,509.8 310.58,509.8 310.58,506.8 Z" fill="none" stroke="#3434c4" stroke-width="0.7"/><ellipse cx="311.88" cy="491.9" rx="1.4" ry="10.76" fill="none" stroke="#3434c4" stroke-width="0.7"/><ellipse cx="311.88" cy="525.8" rx="6.9" ry="9.8" fill="#d8d8f6" stroke="#3434c4" stroke-width="0.6"/><ellipse cx="311.88" cy="525.8" rx="6.3" ry="8.9" fill="none" stroke="#3434c4" stroke-width="0.5"/><ellipse cx="311.88" cy="525.8" rx="5.9" ry="8.2" fill="#a8a8ee" stroke="none" stroke-width="0"/><ellipse cx="311.88" cy="526.3" rx="5.5" ry="7.3" fill="#1010e8" stroke="none" stroke-width="0"/><ellipse cx="311.88" cy="526.3" rx="4.29" ry="5.84" fill="#14c4f0" stroke="none" stroke-width="0"/><ellipse cx="311.88" cy="526.3" rx="3.41" ry="4.67" fill="#2cbc2c" stroke="none" stroke-width="0"/><ellipse cx="311.88" cy="526.3" rx="2.64" ry="3.65" fill="#e8e41a" stroke="none" stroke-width="0"/><ellipse cx="311.88" cy="526.3" rx="2.04" ry="2.77" fill="#ff8a12" stroke="none" stroke-width="0"/><ellipse cx="311.88" cy="526.3" rx="1.32" ry="1.82" fill="#ee1e1e" stroke="none" stroke-width="0"/><rect x="310.67" y="458" width="2.13" height="0.76" fill="#1a1aa8"/><rect x="310.31" y="458.97" width="2.25" height="1.64" fill="#1a1aa8"/><rect x="310.52" y="460.03" width="1.87" height="0.96" fill="#1a1aa8"/><rect x="310.41" y="460.68" width="2.29" height="1.46" fill="#1a1aa8"/><rect x="310.26" y="462.08" width="2.14" height="0.92" fill="#1a1aa8"/><rect x="311.52" y="463.1" width="1.53" height="1.57" fill="#1a1aa8"/><rect x="311.03" y="464.45" width="1.66" height="0.98" fill="#1a1aa8"/><rect x="312.61" y="452.81" width="0.8" height="0.8" fill="#7070b0"/><rect x="311.69" y="454.99" width="0.8" height="0.8" fill="#7070b0"/><rect x="313.41" y="454.9" width="0.8" height="0.8" fill="#7070b0"/><line x1="180.1" y1="406.2" x2="180.1" y2="546.3" stroke="#666" stroke-width="1.5"/><line x1="179.8" y1="546.4" x2="329.4" y2="546.4" stroke="#404040" stroke-width="1.4"/><line x1="177.9" y1="416" x2="180.1" y2="416" stroke="#333" stroke-width="0.9"/><text x="173.6" y="418.4" text-anchor="end" font-family="Liberation Serif, serif" font-size="7.2" fill="#555">10</text><text x="176.8" y="415.2" text-anchor="end" font-family="Liberation Serif, serif" font-size="5.04" fill="#555">5</text><line x1="177.9" y1="446.5" x2="180.1" y2="446.5" stroke="#333" stroke-width="0.9"/><text x="173.6" y="448.9" text-anchor="end" font-family="Liberation Serif, serif" font-size="7.2" fill="#555">10</text><text x="176.8" y="445.7" text-anchor="end" font-family="Liberation Serif, serif" font-size="5.04" fill="#555">4</text><line x1="177.9" y1="477.5" x2="180.1" y2="477.5" stroke="#333" stroke-width="0.9"/><text x="173.6" y="479.9" text-anchor="end" font-family="Liberation Serif, serif" font-size="7.2" fill="#555">10</text><text x="176.8" y="476.7" text-anchor="end" font-family="Liberation Serif, serif" font-size="5.04" fill="#555">3</text><line x1="177.9" y1="510" x2="180.1" y2="510" stroke="#333" stroke-width="0.9"/><text x="173.6" y="512.4" text-anchor="end" font-family="Liberation Serif, serif" font-size="7.2" fill="#555">10</text><text x="176.8" y="509.2" text-anchor="end" font-family="Liberation Serif, serif" font-size="5.04" fill="#555">2</text><line x1="177.9" y1="530.5" x2="180.1" y2="530.5" stroke="#333" stroke-width="0.9"/><text x="173.6" y="532.9" text-anchor="end" font-family="Liberation Serif, serif" font-size="7.2" fill="#555">-10</text><text x="176.8" y="529.7" text-anchor="end" font-family="Liberation Serif, serif" font-size="5.04" fill="#555">1</text><line x1="177.9" y1="546" x2="180.1" y2="546" stroke="#333" stroke-width="0.9"/><text x="173.6" y="548.4" text-anchor="end" font-family="Liberation Serif, serif" font-size="7.2" fill="#555">-10</text><text x="176.8" y="545.2" text-anchor="end" font-family="Liberation Serif, serif" font-size="5.04" fill="#555">2</text><text transform="translate(194.16,553.1) rotate(-45)" text-anchor="end" font-family="Liberation Sans, sans-serif" font-size="10.1" fill="#1a1a1a" stroke="#1a1a1a" stroke-width="0.1" dy="7.27">8</text><text transform="translate(210.66,551.8) rotate(-45)" text-anchor="end" font-family="Liberation Sans, sans-serif" font-size="10.1" fill="#1a1a1a" stroke="#1a1a1a" stroke-width="0.1" dy="7.27">16</text><text transform="translate(227.86,551.8) rotate(-45)" text-anchor="end" font-family="Liberation Sans, sans-serif" font-size="10.1" fill="#1a1a1a" stroke="#1a1a1a" stroke-width="0.1" dy="7.27">32</text><text transform="translate(245.66,552.5) rotate(-45)" text-anchor="end" font-family="Liberation Sans, sans-serif" font-size="10.1" fill="#1a1a1a" stroke="#1a1a1a" stroke-width="0.1" dy="7.27">64</text><text transform="translate(263.56,551.2) rotate(-45)" text-anchor="end" font-family="Liberation Sans, sans-serif" font-size="10.1" fill="#1a1a1a" stroke="#1a1a1a" stroke-width="0.1" dy="7.27">125</text><text transform="translate(281.36,551.2) rotate(-45)" text-anchor="end" font-family="Liberation Sans, sans-serif" font-size="10.1" fill="#1a1a1a" stroke="#1a1a1a" stroke-width="0.1" dy="7.27">250</text><text transform="translate(297.26,551.2) rotate(-45)" text-anchor="end" font-family="Liberation Sans, sans-serif" font-size="10.1" fill="#1a1a1a" stroke="#1a1a1a" stroke-width="0.1" dy="7.27">500</text><text transform="translate(313.26,551.2) rotate(-45)" text-anchor="end" font-family="Liberation Sans, sans-serif" font-size="10.1" fill="#1a1a1a" stroke="#1a1a1a" stroke-width="0.1" dy="7.27">1000</text><rect x="481.3" y="423.5" width="15.5" height="123.4" fill="#dde3dd" stroke="#0e5a17" stroke-width="3.4"/><path d="M370.11,520.5 C370.11,519.24 368.44,518.3 368.44,517.35 C368.44,516.06 369.63,515.55 369.63,514.77 C369.63,501.97 372.73,493.83 374.4,491.5 C376.07,493.83 379.17,501.97 379.17,514.77 C379.17,515.55 380.36,516.06 380.36,517.35 C380.36,518.3 378.69,519.24 378.69,520.5 Z" fill="#eeeefb" stroke="#3434c4" stroke-width="0.8"/><path d="M371.19,513.5 C371.19,512.36 369.94,511.51 369.94,510.66 C369.94,509.5 370.83,509.04 370.83,508.34 C370.83,501.72 373.15,497.5 374.4,496.3 C375.65,497.5 377.97,501.72 377.97,508.34 C377.97,509.04 378.86,509.5 378.86,510.66 C378.86,511.51 377.61,512.36 377.61,513.5 C378.86,516.5 369.94,516.5 369.94,513.5 Z" fill="none" stroke="#3434c4" stroke-width="0.7"/><path d="M372.27,509.5 C372.27,508.95 371.44,508.53 371.44,508.11 C371.44,507.55 372.03,507.32 372.03,506.98 C372.03,503.75 373.57,501.69 374.4,501.1 C375.23,501.69 376.77,503.75 376.77,506.98 C376.77,507.32 377.36,507.55 377.36,508.11 C377.36,508.53 376.53,508.95 376.53,509.5 C377.36,512.5 371.44,512.5 371.44,509.5 Z" fill="none" stroke="#3434c4" stroke-width="0.7"/><ellipse cx="374.4" cy="524.5" rx="6.9" ry="11.8" fill="#d8d8f6" stroke="#3434c4" stroke-width="0.6"/><ellipse cx="374.4" cy="524.5" rx="6.4" ry="10.8" fill="none" stroke="#3434c4" stroke-width="0.5"/><ellipse cx="374.4" cy="524.5" rx="6.1" ry="10.2" fill="#a0a0ec" stroke="none" stroke-width="0"/><ellipse cx="374.4" cy="524.5" rx="5.8" ry="9.6" fill="#1010e8" stroke="none" stroke-width="0"/><ellipse cx="374.4" cy="524.5" rx="4.52" ry="8.26" fill="#14c4f0" stroke="none" stroke-width="0"/><ellipse cx="374.4" cy="524.5" rx="3.71" ry="6.82" fill="#2cbc2c" stroke="none" stroke-width="0"/><ellipse cx="374.4" cy="524.5" rx="3.02" ry="5.47" fill="#e8e41a" stroke="none" stroke-width="0"/><ellipse cx="374.4" cy="524.5" rx="2.32" ry="4.32" fill="#ff8a12" stroke="none" stroke-width="0"/><ellipse cx="374.4" cy="524.5" rx="1.51" ry="2.98" fill="#ee1e1e" stroke="none" stroke-width="0"/><rect x="372.79" y="484.5" width="2.77" height="0.91" fill="#1a1aa8"/><rect x="374.3" y="485.47" width="1.36" height="1.56" fill="#1a1aa8"/><rect x="373.25" y="486.93" width="1.05" height="1" fill="#1a1aa8"/><rect x="372.43" y="488.06" width="2.82" height="0.71" fill="#1a1aa8"/><rect x="374.02" y="488.89" width="1.34" height="0.8" fill="#1a1aa8"/><rect x="373.33" y="489.38" width="2.84" height="1.04" fill="#1a1aa8"/><rect x="373.44" y="490.48" width="1.07" height="1.68" fill="#1a1aa8"/><rect x="373.87" y="491.88" width="1.08" height="1.39" fill="#1a1aa8"/><rect x="372.82" y="480.65" width="0.8" height="0.8" fill="#7070b0"/><rect x="376.36" y="478.6" width="0.8" height="0.8" fill="#7070b0"/><rect x="375.91" y="480.08" width="0.8" height="0.8" fill="#7070b0"/><path d="M386.46,520.5 C386.46,516.9 384.81,514.2 384.81,511.51 C384.81,507.83 385.99,506.36 385.99,504.15 C385.99,492.52 389.05,485.11 390.7,483 C392.35,485.11 395.41,492.52 395.41,504.15 C395.41,506.36 396.59,507.83 396.59,511.51 C396.59,514.2 394.94,516.9 394.94,520.5 Z" fill="#eeeefb" stroke="#3434c4" stroke-width="0.8"/><path d="M387.54,513.5 C387.54,509.83 386.31,507.07 386.31,504.31 C386.31,500.56 387.19,499.05 387.19,496.8 C387.19,491.85 389.47,488.7 390.7,487.8 C391.93,488.7 394.21,491.85 394.21,496.8 C394.21,499.05 395.09,500.56 395.09,504.31 C395.09,507.07 393.86,509.83 393.86,513.5 C395.09,516.5 386.31,516.5 386.31,513.5 Z" fill="none" stroke="#3434c4" stroke-width="0.7"/><path d="M388.62,509.5 C388.62,507.76 387.81,506.46 387.81,505.16 C387.81,503.38 388.39,502.67 388.39,501.6 C388.39,496.65 389.89,493.5 390.7,492.6 C391.51,493.5 393.01,496.65 393.01,501.6 C393.01,502.67 393.59,503.38 393.59,505.16 C393.59,506.46 392.78,507.76 392.78,509.5 C393.59,512.5 387.81,512.5 387.81,509.5 Z" fill="none" stroke="#3434c4" stroke-width="0.7"/><path d="M389.7,505.5 C389.7,504.97 389.31,504.56 389.31,504.16 C389.31,503.62 389.59,503.4 389.59,503.07 C389.59,499.95 390.31,497.97 390.7,497.4 C391.09,497.97 391.81,499.95 391.81,503.07 C391.81,503.4 392.09,503.62 392.09,504.16 C392.09,504.56 391.7,504.97 391.7,505.5 C392.09,508.5 389.31,508.5 389.31,505.5 Z" fill="none" stroke="#3434c4" stroke-width="0.7"/><ellipse cx="390.7" cy="500.25" rx="1.4" ry="6.9" fill="none" stroke="#3434c4" stroke-width="0.7"/><ellipse cx="390.7" cy="524.5" rx="6.9" ry="11.8" fill="#d8d8f6" stroke="#3434c4" stroke-width="0.6"/><ellipse cx="390.7" cy="524.5" rx="6.4" ry="10.8" fill="none" stroke="#3434c4" stroke-width="0.5"/><ellipse cx="390.7" cy="524.5" rx="6.1" ry="10.2" fill="#a0a0ec" stroke="none" stroke-width="0"/><ellipse cx="390.7" cy="524.5" rx="5.8" ry="9.6" fill="#1010e8" stroke="none" stroke-width="0"/><ellipse cx="390.7" cy="524.5" rx="4.52" ry="8.26" fill="#14c4f0" stroke="none" stroke-width="0"/><ellipse cx="390.7" cy="524.5" rx="3.71" ry="6.82" fill="#2cbc2c" stroke="none" stroke-width="0"/><ellipse cx="390.7" cy="524.5" rx="3.02" ry="5.47" fill="#e8e41a" stroke="none" stroke-width="0"/><ellipse cx="390.7" cy="524.5" rx="2.32" ry="4.32" fill="#ff8a12" stroke="none" stroke-width="0"/><ellipse cx="390.7" cy="524.5" rx="1.51" ry="2.98" fill="#ee1e1e" stroke="none" stroke-width="0"/><rect x="389.13" y="476" width="1.97" height="0.82" fill="#1a1aa8"/><rect x="388.95" y="476.71" width="2.37" height="0.88" fill="#1a1aa8"/><rect x="389.85" y="477.63" width="1.22" height="1.2" fill="#1a1aa8"/><rect x="389.39" y="478.59" width="1.7" height="1.62" fill="#1a1aa8"/><rect x="389.11" y="480.06" width="2.46" height="1.58" fill="#1a1aa8"/><rect x="389.4" y="481.04" width="1.14" height="0.96" fill="#1a1aa8"/><rect x="389.42" y="481.88" width="2.11" height="1.11" fill="#1a1aa8"/><rect x="389.62" y="482.49" width="2.31" height="1.39" fill="#1a1aa8"/><rect x="392.63" y="473.45" width="0.8" height="0.8" fill="#7070b0"/><rect x="391.57" y="474.37" width="0.8" height="0.8" fill="#7070b0"/><rect x="389.97" y="472" width="0.8" height="0.8" fill="#7070b0"/><path d="M402.82,520.5 C402.82,512.25 401.2,506.06 401.2,499.88 C401.2,491.44 402.36,488.06 402.36,483 C402.36,476.95 405.38,473.1 407,472 C408.62,473.1 411.64,476.95 411.64,483 C411.64,488.06 412.8,491.44 412.8,499.88 C412.8,506.06 411.18,512.25 411.18,520.5 Z" fill="#eeeefb" stroke="#3434c4" stroke-width="0.8"/><path d="M403.9,513.5 C403.9,507.41 402.7,502.84 402.7,498.26 C402.7,492.03 403.56,489.54 403.56,485.8 C403.56,480.85 405.8,477.7 407,476.8 C408.2,477.7 410.44,480.85 410.44,485.8 C410.44,489.54 411.3,492.03 411.3,498.26 C411.3,502.84 410.1,507.41 410.1,513.5 C411.3,516.5 402.7,516.5 402.7,513.5 Z" fill="none" stroke="#3434c4" stroke-width="0.7"/><path d="M404.98,509.5 C404.98,505.34 404.2,502.22 404.2,499.11 C404.2,494.85 404.76,493.15 404.76,490.6 C404.76,485.65 406.22,482.5 407,481.6 C407.78,482.5 409.24,485.65 409.24,490.6 C409.24,493.15 409.8,494.85 409.8,499.11 C409.8,502.22 409.02,505.34 409.02,509.5 C409.8,512.5 404.2,512.5 404.2,509.5 Z" fill="none" stroke="#3434c4" stroke-width="0.7"/><path d="M406.06,505.5 C406.06,503.28 405.7,501.61 405.7,499.94 C405.7,497.67 405.96,496.76 405.96,495.4 C405.96,490.45 406.64,487.3 407,486.4 C407.36,487.3 408.04,490.45 408.04,495.4 C408.04,496.76 408.3,497.67 408.3,499.94 C408.3,501.61 407.94,503.28 407.94,505.5 C408.3,508.5 405.7,508.5 405.7,505.5 Z" fill="none" stroke="#3434c4" stroke-width="0.7"/><ellipse cx="407" cy="494.75" rx="1.4" ry="9.1" fill="none" stroke="#3434c4" stroke-width="0.7"/><ellipse cx="407" cy="524.5" rx="6.9" ry="11.8" fill="#d8d8f6" stroke="#3434c4" stroke-width="0.6"/><ellipse cx="407" cy="524.5" rx="6.4" ry="10.8" fill="none" stroke="#3434c4" stroke-width="0.5"/><ellipse cx="407" cy="524.5" rx="6.1" ry="10.2" fill="#a0a0ec" stroke="none" stroke-width="0"/><ellipse cx="407" cy="524.5" rx="5.8" ry="9.6" fill="#1010e8" stroke="none" stroke-width="0"/><ellipse cx="407" cy="524.5" rx="4.52" ry="8.26" fill="#14c4f0" stroke="none" stroke-width="0"/><ellipse cx="407" cy="524.5" rx="3.71" ry="6.82" fill="#2cbc2c" stroke="none" stroke-width="0"/><ellipse cx="407" cy="524.5" rx="3.02" ry="5.47" fill="#e8e41a" stroke="none" stroke-width="0"/><ellipse cx="407" cy="524.5" rx="2.32" ry="4.32" fill="#ff8a12" stroke="none" stroke-width="0"/><ellipse cx="407" cy="524.5" rx="1.51" ry="2.98" fill="#ee1e1e" stroke="none" stroke-width="0"/><rect x="405.35" y="465" width="2.95" height="1.12" fill="#1a1aa8"/><rect x="407.15" y="465.85" width="1.29" height="1.11" fill="#1a1aa8"/><rect x="405.18" y="466.46" width="2.85" height="1.31" fill="#1a1aa8"/><rect x="405.78" y="467.55" width="1.48" height="1.08" fill="#1a1aa8"/><rect x="406.37" y="468.21" width="2.57" height="1.54" fill="#1a1aa8"/><rect x="406.41" y="469.09" width="1.65" height="1.39" fill="#1a1aa8"/><rect x="404.73" y="470.18" width="2.94" height="1.02" fill="#1a1aa8"/><rect x="406.14" y="471.19" width="2.02" height="1.55" fill="#1a1aa8"/><rect x="407.52" y="460.17" width="0.8" height="0.8" fill="#7070b0"/><rect x="406.52" y="462.72" width="0.8" height="0.8" fill="#7070b0"/><rect x="406.57" y="462.56" width="0.8" height="0.8" fill="#7070b0"/><path d="M419.12,520.5 C419.12,511.81 417.5,505.29 417.5,498.77 C417.5,489.89 418.66,486.33 418.66,481 C418.66,474.95 421.68,471.1 423.3,470 C424.92,471.1 427.94,474.95 427.94,481 C427.94,486.33 429.1,489.89 429.1,498.77 C429.1,505.29 427.48,511.81 427.48,520.5 Z" fill="#eeeefb" stroke="#3434c4" stroke-width="0.8"/><path d="M420.2,513.5 C420.2,506.97 419,502.07 419,497.17 C419,490.48 419.86,487.81 419.86,483.8 C419.86,478.85 422.1,475.7 423.3,474.8 C424.5,475.7 426.74,478.85 426.74,483.8 C426.74,487.81 427.6,490.48 427.6,497.17 C427.6,502.07 426.4,506.97 426.4,513.5 C427.6,516.5 419,516.5 419,513.5 Z" fill="none" stroke="#3434c4" stroke-width="0.7"/><path d="M421.28,509.5 C421.28,504.9 420.5,501.45 420.5,498 C420.5,493.3 421.06,491.42 421.06,488.6 C421.06,483.65 422.52,480.5 423.3,479.6 C424.08,480.5 425.54,483.65 425.54,488.6 C425.54,491.42 426.1,493.3 426.1,498 C426.1,501.45 425.32,504.9 425.32,509.5 C426.1,512.5 420.5,512.5 420.5,509.5 Z" fill="none" stroke="#3434c4" stroke-width="0.7"/><path d="M422.36,505.5 C422.36,502.84 422,500.84 422,498.84 C422,496.12 422.26,495.03 422.26,493.4 C422.26,488.45 422.94,485.3 423.3,484.4 C423.66,485.3 424.34,488.45 424.34,493.4 C424.34,495.03 424.6,496.12 424.6,498.84 C424.6,500.84 424.24,502.84 424.24,505.5 C424.6,508.5 422,508.5 422,505.5 Z" fill="none" stroke="#3434c4" stroke-width="0.7"/><ellipse cx="423.3" cy="493.75" rx="1.4" ry="9.5" fill="none" stroke="#3434c4" stroke-width="0.7"/><ellipse cx="423.3" cy="524.5" rx="6.9" ry="11.8" fill="#d8d8f6" stroke="#3434c4" stroke-width="0.6"/><ellipse cx="423.3" cy="524.5" rx="6.4" ry="10.8" fill="none" stroke="#3434c4" stroke-width="0.5"/><ellipse cx="423.3" cy="524.5" rx="6.1" ry="10.2" fill="#a0a0ec" stroke="none" stroke-width="0"/><ellipse cx="423.3" cy="524.5" rx="5.8" ry="9.6" fill="#1010e8" stroke="none" stroke-width="0"/><ellipse cx="423.3" cy="524.5" rx="4.52" ry="8.26" fill="#14c4f0" stroke="none" stroke-width="0"/><ellipse cx="423.3" cy="524.5" rx="3.71" ry="6.82" fill="#2cbc2c" stroke="none" stroke-width="0"/><ellipse cx="423.3" cy="524.5" rx="3.02" ry="5.47" fill="#e8e41a" stroke="none" stroke-width="0"/><ellipse cx="423.3" cy="524.5" rx="2.32" ry="4.32" fill="#ff8a12" stroke="none" stroke-width="0"/><ellipse cx="423.3" cy="524.5" rx="1.51" ry="2.98" fill="#ee1e1e" stroke="none" stroke-width="0"/><rect x="422.47" y="463" width="2.23" height="1.23" fill="#1a1aa8"/><rect x="421.81" y="463.87" width="2.09" height="1.33" fill="#1a1aa8"/><rect x="421.85" y="464.97" width="2.82" height="0.96" fill="#1a1aa8"/><rect x="421.88" y="465.93" width="1.95" height="1.22" fill="#1a1aa8"/><rect x="422.31" y="466.69" width="2.06" height="1.63" fill="#1a1aa8"/><rect x="422.04" y="467.9" width="1.48" height="1.51" fill="#1a1aa8"/><rect x="422.68" y="469.22" width="2.28" height="1.16" fill="#1a1aa8"/><rect x="422.57" y="470.4" width="1.09" height="1.57" fill="#1a1aa8"/><rect x="421.79" y="461.09" width="0.8" height="0.8" fill="#7070b0"/><rect x="422.31" y="457.77" width="0.8" height="0.8" fill="#7070b0"/><rect x="422.73" y="457.51" width="0.8" height="0.8" fill="#7070b0"/><path d="M435.42,520.5 C435.42,511.15 433.8,504.14 433.8,497.12 C433.8,487.56 434.96,483.74 434.96,478 C434.96,471.95 437.98,468.1 439.6,467 C441.22,468.1 444.24,471.95 444.24,478 C444.24,483.74 445.4,487.56 445.4,497.12 C445.4,504.14 443.78,511.15 443.78,520.5 Z" fill="#eeeefb" stroke="#3434c4" stroke-width="0.8"/><path d="M436.5,513.5 C436.5,506.31 435.3,500.91 435.3,495.51 C435.3,488.16 436.16,485.21 436.16,480.8 C436.16,475.85 438.4,472.7 439.6,471.8 C440.8,472.7 443.04,475.85 443.04,480.8 C443.04,485.21 443.9,488.16 443.9,495.51 C443.9,500.91 442.7,506.31 442.7,513.5 C443.9,516.5 435.3,516.5 435.3,513.5 Z" fill="none" stroke="#3434c4" stroke-width="0.7"/><path d="M437.58,509.5 C437.58,504.24 436.8,500.3 436.8,496.36 C436.8,490.98 437.36,488.83 437.36,485.6 C437.36,480.65 438.82,477.5 439.6,476.6 C440.38,477.5 441.84,480.65 441.84,485.6 C441.84,488.83 442.4,490.98 442.4,496.36 C442.4,500.3 441.62,504.24 441.62,509.5 C442.4,512.5 436.8,512.5 436.8,509.5 Z" fill="none" stroke="#3434c4" stroke-width="0.7"/><path d="M438.66,505.5 C438.66,502.18 438.3,499.69 438.3,497.19 C438.3,493.8 438.56,492.44 438.56,490.4 C438.56,485.45 439.24,482.3 439.6,481.4 C439.96,482.3 440.64,485.45 440.64,490.4 C440.64,492.44 440.9,493.8 440.9,497.19 C440.9,499.69 440.54,502.18 440.54,505.5 C440.9,508.5 438.3,508.5 438.3,505.5 Z" fill="none" stroke="#3434c4" stroke-width="0.7"/><ellipse cx="439.6" cy="492.25" rx="1.4" ry="10.1" fill="none" stroke="#3434c4" stroke-width="0.7"/><ellipse cx="439.6" cy="524.5" rx="6.9" ry="11.8" fill="#d8d8f6" stroke="#3434c4" stroke-width="0.6"/><ellipse cx="439.6" cy="524.5" rx="6.4" ry="10.8" fill="none" stroke="#3434c4" stroke-width="0.5"/><ellipse cx="439.6" cy="524.5" rx="6.1" ry="10.2" fill="#a0a0ec" stroke="none" stroke-width="0"/><ellipse cx="439.6" cy="524.5" rx="5.8" ry="9.6" fill="#1010e8" stroke="none" stroke-width="0"/><ellipse cx="439.6" cy="524.5" rx="4.52" ry="8.26" fill="#14c4f0" stroke="none" stroke-width="0"/><ellipse cx="439.6" cy="524.5" rx="3.71" ry="6.82" fill="#2cbc2c" stroke="none" stroke-width="0"/><ellipse cx="439.6" cy="524.5" rx="3.02" ry="5.47" fill="#e8e41a" stroke="none" stroke-width="0"/><ellipse cx="439.6" cy="524.5" rx="2.32" ry="4.32" fill="#ff8a12" stroke="none" stroke-width="0"/><ellipse cx="439.6" cy="524.5" rx="1.51" ry="2.98" fill="#ee1e1e" stroke="none" stroke-width="0"/><rect x="438.5" y="460" width="2.04" height="1.5" fill="#1a1aa8"/><rect x="438.42" y="460.88" width="2.99" height="1.1" fill="#1a1aa8"/><rect x="438.72" y="461.75" width="2.6" height="1.18" fill="#1a1aa8"/><rect x="438.77" y="462.49" width="1.73" height="1.38" fill="#1a1aa8"/><rect x="438.57" y="463.39" width="1.68" height="1.07" fill="#1a1aa8"/><rect x="437.82" y="463.99" width="2.14" height="0.9" fill="#1a1aa8"/><rect x="438.54" y="464.59" width="1.55" height="1.42" fill="#1a1aa8"/><rect x="439.23" y="465.52" width="1.18" height="1.53" fill="#1a1aa8"/><rect x="439.14" y="466.88" width="1.85" height="0.9" fill="#1a1aa8"/><rect x="437.78" y="455.86" width="0.8" height="0.8" fill="#7070b0"/><rect x="439.07" y="456.21" width="0.8" height="0.8" fill="#7070b0"/><rect x="438.78" y="457.56" width="0.8" height="0.8" fill="#7070b0"/><path d="M451.72,520.5 C451.72,510.27 450.1,502.6 450.1,494.93 C450.1,484.46 451.26,480.28 451.26,474 C451.26,467.95 454.28,464.1 455.9,463 C457.52,464.1 460.54,467.95 460.54,474 C460.54,480.28 461.7,484.46 461.7,494.93 C461.7,502.6 460.08,510.27 460.08,520.5 Z" fill="#eeeefb" stroke="#3434c4" stroke-width="0.8"/><path d="M452.8,513.5 C452.8,505.43 451.6,499.37 451.6,493.31 C451.6,485.06 452.46,481.75 452.46,476.8 C452.46,471.85 454.7,468.7 455.9,467.8 C457.1,468.7 459.34,471.85 459.34,476.8 C459.34,481.75 460.2,485.06 460.2,493.31 C460.2,499.37 459,505.43 459,513.5 C460.2,516.5 451.6,516.5 451.6,513.5 Z" fill="none" stroke="#3434c4" stroke-width="0.7"/><path d="M453.88,509.5 C453.88,503.36 453.1,498.76 453.1,494.16 C453.1,487.88 453.66,485.37 453.66,481.6 C453.66,476.65 455.12,473.5 455.9,472.6 C456.68,473.5 458.14,476.65 458.14,481.6 C458.14,485.37 458.7,487.88 458.7,494.16 C458.7,498.76 457.92,503.36 457.92,509.5 C458.7,512.5 453.1,512.5 453.1,509.5 Z" fill="none" stroke="#3434c4" stroke-width="0.7"/><path d="M454.96,505.5 C454.96,501.3 454.6,498.15 454.6,495 C454.6,490.7 454.86,488.98 454.86,486.4 C454.86,481.45 455.54,478.3 455.9,477.4 C456.26,478.3 456.94,481.45 456.94,486.4 C456.94,488.98 457.2,490.7 457.2,495 C457.2,498.15 456.84,501.3 456.84,505.5 C457.2,508.5 454.6,508.5 454.6,505.5 Z" fill="none" stroke="#3434c4" stroke-width="0.7"/><ellipse cx="455.9" cy="490.25" rx="1.4" ry="10.9" fill="none" stroke="#3434c4" stroke-width="0.7"/><ellipse cx="455.9" cy="524.5" rx="6.9" ry="11.8" fill="#d8d8f6" stroke="#3434c4" stroke-width="0.6"/><ellipse cx="455.9" cy="524.5" rx="6.4" ry="10.8" fill="none" stroke="#3434c4" stroke-width="0.5"/><ellipse cx="455.9" cy="524.5" rx="6.1" ry="10.2" fill="#a0a0ec" stroke="none" stroke-width="0"/><ellipse cx="455.9" cy="524.5" rx="5.8" ry="9.6" fill="#1010e8" stroke="none" stroke-width="0"/><ellipse cx="455.9" cy="524.5" rx="4.52" ry="8.26" fill="#14c4f0" stroke="none" stroke-width="0"/><ellipse cx="455.9" cy="524.5" rx="3.71" ry="6.82" fill="#2cbc2c" stroke="none" stroke-width="0"/><ellipse cx="455.9" cy="524.5" rx="3.02" ry="5.47" fill="#e8e41a" stroke="none" stroke-width="0"/><ellipse cx="455.9" cy="524.5" rx="2.32" ry="4.32" fill="#ff8a12" stroke="none" stroke-width="0"/><ellipse cx="455.9" cy="524.5" rx="1.51" ry="2.98" fill="#ee1e1e" stroke="none" stroke-width="0"/><rect x="455.25" y="456" width="2.3" height="1.11" fill="#1a1aa8"/><rect x="455.5" y="456.82" width="2.16" height="1.09" fill="#1a1aa8"/><rect x="454.48" y="457.53" width="2.42" height="1.67" fill="#1a1aa8"/><rect x="455.74" y="458.85" width="1.14" height="1.03" fill="#1a1aa8"/><rect x="455.55" y="459.65" width="1.99" height="1.23" fill="#1a1aa8"/><rect x="454.75" y="460.77" width="2.19" height="0.73" fill="#1a1aa8"/><rect x="454.94" y="461.45" width="1.83" height="1.54" fill="#1a1aa8"/><rect x="454.93" y="462.83" width="1.98" height="1.14" fill="#1a1aa8"/><rect x="456.86" y="453.35" width="0.8" height="0.8" fill="#7070b0"/><rect x="454.06" y="452.01" width="0.8" height="0.8" fill="#7070b0"/><rect x="456.12" y="453.4" width="0.8" height="0.8" fill="#7070b0"/><path d="M468.02,520.5 C468.02,510.27 466.4,502.6 466.4,494.93 C466.4,484.46 467.56,480.28 467.56,474 C467.56,467.95 470.58,464.1 472.2,463 C473.82,464.1 476.84,467.95 476.84,474 C476.84,480.28 478,484.46 478,494.93 C478,502.6 476.38,510.27 476.38,520.5 Z" fill="#eeeefb" stroke="#3434c4" stroke-width="0.8"/><path d="M469.1,513.5 C469.1,505.43 467.9,499.37 467.9,493.31 C467.9,485.06 468.76,481.75 468.76,476.8 C468.76,471.85 471,468.7 472.2,467.8 C473.4,468.7 475.64,471.85 475.64,476.8 C475.64,481.75 476.5,485.06 476.5,493.31 C476.5,499.37 475.3,505.43 475.3,513.5 C476.5,516.5 467.9,516.5 467.9,513.5 Z" fill="none" stroke="#3434c4" stroke-width="0.7"/><path d="M470.18,509.5 C470.18,503.36 469.4,498.76 469.4,494.16 C469.4,487.88 469.96,485.37 469.96,481.6 C469.96,476.65 471.42,473.5 472.2,472.6 C472.98,473.5 474.44,476.65 474.44,481.6 C474.44,485.37 475,487.88 475,494.16 C475,498.76 474.22,503.36 474.22,509.5 C475,512.5 469.4,512.5 469.4,509.5 Z" fill="none" stroke="#3434c4" stroke-width="0.7"/><path d="M471.26,505.5 C471.26,501.3 470.9,498.15 470.9,495 C470.9,490.7 471.16,488.98 471.16,486.4 C471.16,481.45 471.84,478.3 472.2,477.4 C472.56,478.3 473.24,481.45 473.24,486.4 C473.24,488.98 473.5,490.7 473.5,495 C473.5,498.15 473.14,501.3 473.14,505.5 C473.5,508.5 470.9,508.5 470.9,505.5 Z" fill="none" stroke="#3434c4" stroke-width="0.7"/><ellipse cx="472.2" cy="490.25" rx="1.4" ry="10.9" fill="none" stroke="#3434c4" stroke-width="0.7"/><ellipse cx="472.2" cy="524.5" rx="6.9" ry="11.8" fill="#d8d8f6" stroke="#3434c4" stroke-width="0.6"/><ellipse cx="472.2" cy="524.5" rx="6.4" ry="10.8" fill="none" stroke="#3434c4" stroke-width="0.5"/><ellipse cx="472.2" cy="524.5" rx="6.1" ry="10.2" fill="#a0a0ec" stroke="none" stroke-width="0"/><ellipse cx="472.2" cy="524.5" rx="5.8" ry="9.6" fill="#1010e8" stroke="none" stroke-width="0"/><ellipse cx="472.2" cy="524.5" rx="4.52" ry="8.26" fill="#14c4f0" stroke="none" stroke-width="0"/><ellipse cx="472.2" cy="524.5" rx="3.71" ry="6.82" fill="#2cbc2c" stroke="none" stroke-width="0"/><ellipse cx="472.2" cy="524.5" rx="3.02" ry="5.47" fill="#e8e41a" stroke="none" stroke-width="0"/><ellipse cx="472.2" cy="524.5" rx="2.32" ry="4.32" fill="#ff8a12" stroke="none" stroke-width="0"/><ellipse cx="472.2" cy="524.5" rx="1.51" ry="2.98" fill="#ee1e1e" stroke="none" stroke-width="0"/><rect x="470.32" y="456" width="2.54" height="1.47" fill="#1a1aa8"/><rect x="470.25" y="456.94" width="2.63" height="0.78" fill="#1a1aa8"/><rect x="470.42" y="457.42" width="2.13" height="1.45" fill="#1a1aa8"/><rect x="470.5" y="458.63" width="1.97" height="1.41" fill="#1a1aa8"/><rect x="471.91" y="459.82" width="2.17" height="1.12" fill="#1a1aa8"/><rect x="471.29" y="460.92" width="1.29" height="1.57" fill="#1a1aa8"/><rect x="470.35" y="462.1" width="2.98" height="0.71" fill="#1a1aa8"/><rect x="472.02" y="462.65" width="1.51" height="1.01" fill="#1a1aa8"/><rect x="471.88" y="452.55" width="0.8" height="0.8" fill="#7070b0"/><rect x="471.42" y="450.26" width="0.8" height="0.8" fill="#7070b0"/><rect x="473.41" y="454.33" width="0.8" height="0.8" fill="#7070b0"/><path d="M484.32,520.5 C484.32,510.05 482.7,502.21 482.7,494.38 C482.7,483.69 483.86,479.41 483.86,473 C483.86,466.95 486.88,463.1 488.5,462 C490.12,463.1 493.14,466.95 493.14,473 C493.14,479.41 494.3,483.69 494.3,494.38 C494.3,502.21 492.68,510.05 492.68,520.5 Z" fill="#eeeefb" stroke="#3434c4" stroke-width="0.8"/><path d="M485.4,513.5 C485.4,505.21 484.2,498.99 484.2,492.76 C484.2,484.28 485.06,480.89 485.06,475.8 C485.06,470.85 487.3,467.7 488.5,466.8 C489.7,467.7 491.94,470.85 491.94,475.8 C491.94,480.89 492.8,484.28 492.8,492.76 C492.8,498.99 491.6,505.21 491.6,513.5 C492.8,516.5 484.2,516.5 484.2,513.5 Z" fill="none" stroke="#3434c4" stroke-width="0.7"/><path d="M486.48,509.5 C486.48,503.14 485.7,498.37 485.7,493.61 C485.7,487.1 486.26,484.5 486.26,480.6 C486.26,475.65 487.72,472.5 488.5,471.6 C489.28,472.5 490.74,475.65 490.74,480.6 C490.74,484.5 491.3,487.1 491.3,493.61 C491.3,498.37 490.52,503.14 490.52,509.5 C491.3,512.5 485.7,512.5 485.7,509.5 Z" fill="none" stroke="#3434c4" stroke-width="0.7"/><path d="M487.56,505.5 C487.56,501.08 487.2,497.76 487.2,494.44 C487.2,489.92 487.46,488.11 487.46,485.4 C487.46,480.45 488.14,477.3 488.5,476.4 C488.86,477.3 489.54,480.45 489.54,485.4 C489.54,488.11 489.8,489.92 489.8,494.44 C489.8,497.76 489.44,501.08 489.44,505.5 C489.8,508.5 487.2,508.5 487.2,505.5 Z" fill="none" stroke="#3434c4" stroke-width="0.7"/><ellipse cx="488.5" cy="489.75" rx="1.4" ry="11.1" fill="none" stroke="#3434c4" stroke-width="0.7"/><ellipse cx="488.5" cy="524.5" rx="6.9" ry="11.8" fill="#d8d8f6" stroke="#3434c4" stroke-width="0.6"/><ellipse cx="488.5" cy="524.5" rx="6.4" ry="10.8" fill="none" stroke="#3434c4" stroke-width="0.5"/><ellipse cx="488.5" cy="524.5" rx="6.1" ry="10.2" fill="#a0a0ec" stroke="none" stroke-width="0"/><ellipse cx="488.5" cy="524.5" rx="5.8" ry="9.6" fill="#1010e8" stroke="none" stroke-width="0"/><ellipse cx="488.5" cy="524.5" rx="4.52" ry="8.26" fill="#14c4f0" stroke="none" stroke-width="0"/><ellipse cx="488.5" cy="524.5" rx="3.71" ry="6.82" fill="#2cbc2c" stroke="none" stroke-width="0"/><ellipse cx="488.5" cy="524.5" rx="3.02" ry="5.47" fill="#e8e41a" stroke="none" stroke-width="0"/><ellipse cx="488.5" cy="524.5" rx="2.32" ry="4.32" fill="#ff8a12" stroke="none" stroke-width="0"/><ellipse cx="488.5" cy="524.5" rx="1.51" ry="2.98" fill="#ee1e1e" stroke="none" stroke-width="0"/><rect x="487.27" y="455" width="1.51" height="1.56" fill="#1a1aa8"/><rect x="487.57" y="455.89" width="1.75" height="1.24" fill="#1a1aa8"/><rect x="488.12" y="456.86" width="1.73" height="1.28" fill="#1a1aa8"/><rect x="486.73" y="457.69" width="2.11" height="1.62" fill="#1a1aa8"/><rect x="487.69" y="458.77" width="1.82" height="1.23" fill="#1a1aa8"/><rect x="486.87" y="459.64" width="2.59" height="0.97" fill="#1a1aa8"/><rect x="487.34" y="460.6" width="2.18" height="1.5" fill="#1a1aa8"/><rect x="486.41" y="461.99" width="2.76" height="1.14" fill="#1a1aa8"/><rect x="486.7" y="452.2" width="0.8" height="0.8" fill="#7070b0"/><rect x="486.79" y="453.31" width="0.8" height="0.8" fill="#7070b0"/><rect x="487.22" y="451.98" width="0.8" height="0.8" fill="#7070b0"/><line x1="357.6" y1="406.2" x2="357.6" y2="547" stroke="#666" stroke-width="1.5"/><line x1="357.2" y1="547.2" x2="505.8" y2="547.2" stroke="#404040" stroke-width="1.4"/><line x1="355.4" y1="415.5" x2="357.6" y2="415.5" stroke="#333" stroke-width="0.9"/><text x="351" y="417.9" text-anchor="end" font-family="Liberation Serif, serif" font-size="7.2" fill="#555">10</text><text x="354.2" y="414.7" text-anchor="end" font-family="Liberation Serif, serif" font-size="5.04" fill="#555">5</text><line x1="355.4" y1="446.6" x2="357.6" y2="446.6" stroke="#333" stroke-width="0.9"/><text x="351" y="449" text-anchor="end" font-family="Liberation Serif, serif" font-size="7.2" fill="#555">10</text><text x="354.2" y="445.8" text-anchor="end" font-family="Liberation Serif, serif" font-size="5.04" fill="#555">4</text><line x1="355.4" y1="477.7" x2="357.6" y2="477.7" stroke="#333" stroke-width="0.9"/><text x="351" y="480.1" text-anchor="end" font-family="Liberation Serif, serif" font-size="7.2" fill="#555">10</text><text x="354.2" y="476.9" text-anchor="end" font-family="Liberation Serif, serif" font-size="5.04" fill="#555">3</text><line x1="355.4" y1="510.3" x2="357.6" y2="510.3" stroke="#333" stroke-width="0.9"/><text x="351" y="512.7" text-anchor="end" font-family="Liberation Serif, serif" font-size="7.2" fill="#555">10</text><text x="354.2" y="509.5" text-anchor="end" font-family="Liberation Serif, serif" font-size="5.04" fill="#555">2</text><line x1="355.4" y1="531.5" x2="357.6" y2="531.5" stroke="#333" stroke-width="0.9"/><text x="351" y="533.9" text-anchor="end" font-family="Liberation Serif, serif" font-size="7.2" fill="#555">-10</text><text x="354.2" y="530.7" text-anchor="end" font-family="Liberation Serif, serif" font-size="5.04" fill="#555">1</text><line x1="355.4" y1="547.1" x2="357.6" y2="547.1" stroke="#333" stroke-width="0.9"/><text x="351" y="549.5" text-anchor="end" font-family="Liberation Serif, serif" font-size="7.2" fill="#555">-10</text><text x="354.2" y="546.3" text-anchor="end" font-family="Liberation Serif, serif" font-size="5.04" fill="#555">2</text><text transform="translate(374.96,552.9) rotate(-45)" text-anchor="end" font-family="Liberation Sans, sans-serif" font-size="10.1" fill="#1a1a1a" stroke="#1a1a1a" stroke-width="0.1" dy="7.27">8</text><text transform="translate(391.46,551.8) rotate(-45)" text-anchor="end" font-family="Liberation Sans, sans-serif" font-size="10.1" fill="#1a1a1a" stroke="#1a1a1a" stroke-width="0.1" dy="7.27">16</text><text transform="translate(408.06,551.2) rotate(-45)" text-anchor="end" font-family="Liberation Sans, sans-serif" font-size="10.1" fill="#1a1a1a" stroke="#1a1a1a" stroke-width="0.1" dy="7.27">32</text><text transform="translate(425.86,551.8) rotate(-45)" text-anchor="end" font-family="Liberation Sans, sans-serif" font-size="10.1" fill="#1a1a1a" stroke="#1a1a1a" stroke-width="0.1" dy="7.27">64</text><text transform="translate(445.46,550.6) rotate(-45)" text-anchor="end" font-family="Liberation Sans, sans-serif" font-size="10.1" fill="#1a1a1a" stroke="#1a1a1a" stroke-width="0.1" dy="7.27">125</text><text transform="translate(460.76,550.6) rotate(-45)" text-anchor="end" font-family="Liberation Sans, sans-serif" font-size="10.1" fill="#1a1a1a" stroke="#1a1a1a" stroke-width="0.1" dy="7.27">250</text><text transform="translate(476.06,550.6) rotate(-45)" text-anchor="end" font-family="Liberation Sans, sans-serif" font-size="10.1" fill="#1a1a1a" stroke="#1a1a1a" stroke-width="0.1" dy="7.27">500</text><text transform="translate(492.56,550.6) rotate(-45)" text-anchor="end" font-family="Liberation Sans, sans-serif" font-size="10.1" fill="#1a1a1a" stroke="#1a1a1a" stroke-width="0.1" dy="7.27">1000</text><text x="268" y="592" font-family="Liberation Sans, sans-serif" font-size="12.27" fill="#262626">Antibody Concentration (ng/test)</text><line x1="159" y1="339.7" x2="302" y2="339.7" stroke="#d9d9d9" stroke-width="1.1"/><text x="150.5" y="342.4" text-anchor="end" font-family="Liberation Sans, sans-serif" font-size="9.5" fill="#333">0</text><text x="150.5" y="324.08" text-anchor="end" font-family="Liberation Sans, sans-serif" font-size="9.5" fill="#333">50</text><text x="150.5" y="305.76" text-anchor="end" font-family="Liberation Sans, sans-serif" font-size="9.5" fill="#333">100</text><text x="150.5" y="287.44" text-anchor="end" font-family="Liberation Sans, sans-serif" font-size="9.5" fill="#333">150</text><text x="150.5" y="269.12" text-anchor="end" font-family="Liberation Sans, sans-serif" font-size="9.5" fill="#333">200</text><text x="150.5" y="250.8" text-anchor="end" font-family="Liberation Sans, sans-serif" font-size="9.5" fill="#333">250</text><polyline points="168.4,337.14 186.33,336.04 204.26,333.1 222.19,329.07 240.12,322.11 258.05,311.85 275.98,292.8 293.91,257.63" fill="none" stroke="#156082" stroke-width="1.8"/><polyline points="168.4,338.71 186.33,338.71 204.26,337.61 222.19,335.49 240.12,333.1 258.05,327.79 275.98,318.08 293.91,305.62" fill="none" stroke="#e97132" stroke-width="1.8"/><path d="M168.4,333.04 L172.5,337.14 L168.4,341.24 L164.3,337.14 Z" fill="#156082"/><path d="M186.33,331.94 L190.43,336.04 L186.33,340.14 L182.23,336.04 Z" fill="#156082"/><path d="M204.26,329 L208.36,333.1 L204.26,337.2 L200.16,333.1 Z" fill="#156082"/><path d="M222.19,324.97 L226.29,329.07 L222.19,333.17 L218.09,329.07 Z" fill="#156082"/><path d="M240.12,318.01 L244.22,322.11 L240.12,326.21 L236.02,322.11 Z" fill="#156082"/><path d="M258.05,307.75 L262.15,311.85 L258.05,315.95 L253.95,311.85 Z" fill="#156082"/><path d="M275.98,288.7 L280.08,292.8 L275.98,296.9 L271.88,292.8 Z" fill="#156082"/><path d="M293.91,253.53 L298.01,257.63 L293.91,261.73 L289.81,257.63 Z" fill="#156082"/><rect x="164.4" y="334.71" width="8" height="8" fill="#e97132"/><rect x="182.33" y="334.71" width="8" height="8" fill="#e97132"/><rect x="200.26" y="333.61" width="8" height="8" fill="#e97132"/><rect x="218.19" y="331.49" width="8" height="8" fill="#e97132"/><rect x="236.12" y="329.1" width="8" height="8" fill="#e97132"/><rect x="254.05" y="323.79" width="8" height="8" fill="#e97132"/><rect x="271.98" y="314.08" width="8" height="8" fill="#e97132"/><rect x="289.91" y="301.62" width="8" height="8" fill="#e97132"/><line x1="294.6" y1="258.3" x2="294.6" y2="338.8" stroke="#0f5a1a" stroke-width="2.3" stroke-dasharray="7.5 6.5"/><line x1="170.7" y1="252.9" x2="198.7" y2="252.9" stroke="#156082" stroke-width="1.8"/><path d="M184.7,249.5 L188.1,252.9 L184.7,256.3 L181.3,252.9 Z" fill="#156082"/><line x1="170.7" y1="264.1" x2="198.7" y2="264.1" stroke="#e97132" stroke-width="1.8"/><rect x="181.4" y="260.8" width="6.6" height="6.6" fill="#e97132"/><text x="201.3" y="256.2" font-family="Liberation Sans, sans-serif" font-size="9.3" fill="#262626">Aurora</text><text x="201.3" y="267.4" font-family="Liberation Sans, sans-serif" font-size="9.3" fill="#262626">Fortessa</text><text transform="translate(128.7,293) rotate(-90)" text-anchor="middle" font-family="Liberation Sans, sans-serif" font-size="9.3" fill="#404040">Stain Index</text><text transform="translate(165.4,349) rotate(-45)" text-anchor="end" font-family="Liberation Sans, sans-serif" font-size="9.2" fill="#333" dy="6.62">16</text><text transform="translate(183.33,349) rotate(-45)" text-anchor="end" font-family="Liberation Sans, sans-serif" font-size="9.2" fill="#333" dy="6.62">32</text><text transform="translate(201.26,349) rotate(-45)" text-anchor="end" font-family="Liberation Sans, sans-serif" font-size="9.2" fill="#333" dy="6.62">64</text><text transform="translate(219.19,349) rotate(-45)" text-anchor="end" font-family="Liberation Sans, sans-serif" font-size="9.2" fill="#333" dy="6.62">125</text><text transform="translate(237.12,349) rotate(-45)" text-anchor="end" font-family="Liberation Sans, sans-serif" font-size="9.2" fill="#333" dy="6.62">250</text><text transform="translate(255.05,349) rotate(-45)" text-anchor="end" font-family="Liberation Sans, sans-serif" font-size="9.2" fill="#333" dy="6.62">500</text><text transform="translate(272.98,349) rotate(-45)" text-anchor="end" font-family="Liberation Sans, sans-serif" font-size="9.2" fill="#333" dy="6.62">1000</text><text transform="translate(290.91,349) rotate(-45)" text-anchor="end" font-family="Liberation Sans, sans-serif" font-size="9.2" fill="#333" dy="6.62">2000</text><line x1="377.7" y1="342.5" x2="542" y2="342.5" stroke="#d9d9d9" stroke-width="1.1"/><text x="368.8" y="345" text-anchor="end" font-family="Liberation Sans, sans-serif" font-size="9.5" fill="#333">3</text><text x="368.8" y="320.1" text-anchor="end" font-family="Liberation Sans, sans-serif" font-size="9.5" fill="#333">4</text><text x="368.8" y="295.2" text-anchor="end" font-family="Liberation Sans, sans-serif" font-size="9.5" fill="#333">5</text><text x="368.8" y="270.3" text-anchor="end" font-family="Liberation Sans, sans-serif" font-size="9.5" fill="#333">6</text><polyline points="387.4,317.4 408.05,308.69 428.7,296.24 449.35,285.03 470,286.28 490.65,277.56 511.3,276.31 531.95,263.87" fill="none" stroke="#156082" stroke-width="1.8"/><polyline points="387.4,331.1 408.05,324.12 428.7,302.46 449.35,311.18 470,306.19 490.65,303.21 511.3,301.22 531.95,275.07" fill="none" stroke="#e97132" stroke-width="1.8"/><path d="M387.4,313.3 L391.5,317.4 L387.4,321.5 L383.3,317.4 Z" fill="#156082"/><path d="M408.05,304.58 L412.15,308.69 L408.05,312.79 L403.95,308.69 Z" fill="#156082"/><path d="M428.7,292.13 L432.8,296.24 L428.7,300.34 L424.6,296.24 Z" fill="#156082"/><path d="M449.35,280.93 L453.45,285.03 L449.35,289.13 L445.25,285.03 Z" fill="#156082"/><path d="M470,282.18 L474.1,286.28 L470,290.38 L465.9,286.28 Z" fill="#156082"/><path d="M490.65,273.46 L494.75,277.56 L490.65,281.66 L486.55,277.56 Z" fill="#156082"/><path d="M511.3,272.21 L515.4,276.31 L511.3,280.42 L507.2,276.31 Z" fill="#156082"/><path d="M531.95,259.76 L536.05,263.87 L531.95,267.97 L527.85,263.87 Z" fill="#156082"/><rect x="383.4" y="327.1" width="8" height="8" fill="#e97132"/><rect x="404.05" y="320.12" width="8" height="8" fill="#e97132"/><rect x="424.7" y="298.46" width="8" height="8" fill="#e97132"/><rect x="445.35" y="307.18" width="8" height="8" fill="#e97132"/><rect x="466" y="302.19" width="8" height="8" fill="#e97132"/><rect x="486.65" y="299.21" width="8" height="8" fill="#e97132"/><rect x="507.3" y="297.22" width="8" height="8" fill="#e97132"/><rect x="527.95" y="271.07" width="8" height="8" fill="#e97132"/><text transform="translate(353.7,300) rotate(-90)" text-anchor="middle" font-family="Liberation Sans, sans-serif" font-size="9.3" fill="#404040">Percent Positive Gated (%)</text><text transform="translate(384.8,352) rotate(-45)" text-anchor="end" font-family="Liberation Sans, sans-serif" font-size="9.2" fill="#333" dy="6.62">16</text><text transform="translate(405.45,352) rotate(-45)" text-anchor="end" font-family="Liberation Sans, sans-serif" font-size="9.2" fill="#333" dy="6.62">32</text><text transform="translate(426.1,352) rotate(-45)" text-anchor="end" font-family="Liberation Sans, sans-serif" font-size="9.2" fill="#333" dy="6.62">64</text><text transform="translate(446.75,352) rotate(-45)" text-anchor="end" font-family="Liberation Sans, sans-serif" font-size="9.2" fill="#333" dy="6.62">125</text><text transform="translate(467.4,352) rotate(-45)" text-anchor="end" font-family="Liberation Sans, sans-serif" font-size="9.2" fill="#333" dy="6.62">250</text><text transform="translate(488.05,352) rotate(-45)" text-anchor="end" font-family="Liberation Sans, sans-serif" font-size="9.2" fill="#333" dy="6.62">500</text><text transform="translate(508.7,352) rotate(-45)" text-anchor="end" font-family="Liberation Sans, sans-serif" font-size="9.2" fill="#333" dy="6.62">1000</text><text transform="translate(529.35,352) rotate(-45)" text-anchor="end" font-family="Liberation Sans, sans-serif" font-size="9.2" fill="#333" dy="6.62">2000</text><line x1="162.7" y1="710" x2="305.8" y2="710" stroke="#d9d9d9" stroke-width="1.1"/><text x="152.7" y="712.2" text-anchor="end" font-family="Liberation Sans, sans-serif" font-size="9.5" fill="#333">0</text><text x="152.7" y="693.48" text-anchor="end" font-family="Liberation Sans, sans-serif" font-size="9.5" fill="#333">2</text><text x="152.7" y="674.76" text-anchor="end" font-family="Liberation Sans, sans-serif" font-size="9.5" fill="#333">4</text><text x="152.7" y="656.04" text-anchor="end" font-family="Liberation Sans, sans-serif" font-size="9.5" fill="#333">6</text><text x="152.7" y="637.32" text-anchor="end" font-family="Liberation Sans, sans-serif" font-size="9.5" fill="#333">8</text><text x="152.7" y="618.6" text-anchor="end" font-family="Liberation Sans, sans-serif" font-size="9.5" fill="#333">10</text><polyline points="170.9,693.59 188.93,691.72 206.96,686.1 224.99,677.68 243.02,665.51 261.05,655.21 279.08,643.51 297.11,640.7" fill="none" stroke="#156082" stroke-width="1.8"/><polyline points="170.9,693.96 188.93,689.84 206.96,681.98 224.99,670.19 243.02,657.08 261.05,643.51 279.08,631.81 297.11,623.86" fill="none" stroke="#e97132" stroke-width="1.8"/><path d="M170.9,689.49 L175,693.59 L170.9,697.69 L166.8,693.59 Z" fill="#156082"/><path d="M188.93,687.62 L193.03,691.72 L188.93,695.82 L184.83,691.72 Z" fill="#156082"/><path d="M206.96,682 L211.06,686.1 L206.96,690.2 L202.86,686.1 Z" fill="#156082"/><path d="M224.99,673.58 L229.09,677.68 L224.99,681.78 L220.89,677.68 Z" fill="#156082"/><path d="M243.02,661.41 L247.12,665.51 L243.02,669.61 L238.92,665.51 Z" fill="#156082"/><path d="M261.05,651.11 L265.15,655.21 L261.05,659.31 L256.95,655.21 Z" fill="#156082"/><path d="M279.08,639.41 L283.18,643.51 L279.08,647.61 L274.98,643.51 Z" fill="#156082"/><path d="M297.11,636.6 L301.21,640.7 L297.11,644.8 L293.01,640.7 Z" fill="#156082"/><rect x="166.9" y="689.96" width="8" height="8" fill="#e97132"/><rect x="184.93" y="685.84" width="8" height="8" fill="#e97132"/><rect x="202.96" y="677.98" width="8" height="8" fill="#e97132"/><rect x="220.99" y="666.19" width="8" height="8" fill="#e97132"/><rect x="239.02" y="653.08" width="8" height="8" fill="#e97132"/><rect x="257.05" y="639.51" width="8" height="8" fill="#e97132"/><rect x="275.08" y="627.81" width="8" height="8" fill="#e97132"/><rect x="293.11" y="619.86" width="8" height="8" fill="#e97132"/><line x1="299.8" y1="627.8" x2="299.8" y2="705.5" stroke="#0f5a1a" stroke-width="2.3" stroke-dasharray="7.5 6.5"/><line x1="168.8" y1="620" x2="196.6" y2="620" stroke="#156082" stroke-width="1.8"/><path d="M182.7,616.6 L186.1,620 L182.7,623.4 L179.3,620 Z" fill="#156082"/><line x1="168.8" y1="635.2" x2="196.6" y2="635.2" stroke="#e97132" stroke-width="1.8"/><rect x="179.4" y="631.9" width="6.6" height="6.6" fill="#e97132"/><text x="198.9" y="623.3" font-family="Liberation Sans, sans-serif" font-size="9.3" fill="#262626">Aurora</text><text x="198.9" y="638.5" font-family="Liberation Sans, sans-serif" font-size="9.3" fill="#262626">Fortessa</text><text transform="translate(136,663) rotate(-90)" text-anchor="middle" font-family="Liberation Sans, sans-serif" font-size="9.3" fill="#404040">Stain Index</text><text transform="translate(168.5,719) rotate(-45)" text-anchor="end" font-family="Liberation Sans, sans-serif" font-size="9.2" fill="#333" dy="6.62">8</text><text transform="translate(186.53,719) rotate(-45)" text-anchor="end" font-family="Liberation Sans, sans-serif" font-size="9.2" fill="#333" dy="6.62">16</text><text transform="translate(204.56,719) rotate(-45)" text-anchor="end" font-family="Liberation Sans, sans-serif" font-size="9.2" fill="#333" dy="6.62">32</text><text transform="translate(222.59,719) rotate(-45)" text-anchor="end" font-family="Liberation Sans, sans-serif" font-size="9.2" fill="#333" dy="6.62">64</text><text transform="translate(240.62,719) rotate(-45)" text-anchor="end" font-family="Liberation Sans, sans-serif" font-size="9.2" fill="#333" dy="6.62">125</text><text transform="translate(258.65,719) rotate(-45)" text-anchor="end" font-family="Liberation Sans, sans-serif" font-size="9.2" fill="#333" dy="6.62">250</text><text transform="translate(276.68,719) rotate(-45)" text-anchor="end" font-family="Liberation Sans, sans-serif" font-size="9.2" fill="#333" dy="6.62">500</text><text transform="translate(294.71,719) rotate(-45)" text-anchor="end" font-family="Liberation Sans, sans-serif" font-size="9.2" fill="#333" dy="6.62">1000</text><line x1="381.4" y1="710" x2="541.3" y2="710" stroke="#d9d9d9" stroke-width="1.1"/><text x="371.4" y="712.3" text-anchor="end" font-family="Liberation Sans, sans-serif" font-size="9.5" fill="#333">1</text><text x="371.4" y="695.7" text-anchor="end" font-family="Liberation Sans, sans-serif" font-size="9.5" fill="#333">3</text><text x="371.4" y="679.1" text-anchor="end" font-family="Liberation Sans, sans-serif" font-size="9.5" fill="#333">5</text><text x="371.4" y="662.5" text-anchor="end" font-family="Liberation Sans, sans-serif" font-size="9.5" fill="#333">7</text><text x="371.4" y="645.9" text-anchor="end" font-family="Liberation Sans, sans-serif" font-size="9.5" fill="#333">9</text><text x="371.4" y="629.3" text-anchor="end" font-family="Liberation Sans, sans-serif" font-size="9.5" fill="#333">11</text><polyline points="391,693.83 410.97,677.23 430.94,656.48 450.91,644.03 470.88,644.03 490.85,641.12 510.82,637.39 530.79,636.56" fill="none" stroke="#156082" stroke-width="1.8"/><polyline points="391,685.53 410.97,671.42 430.94,655.65 450.91,651.5 470.88,637.39 490.85,637.81 510.82,635.32 530.79,638.22" fill="none" stroke="#e97132" stroke-width="1.8"/><path d="M391,689.73 L395.1,693.83 L391,697.93 L386.9,693.83 Z" fill="#156082"/><path d="M410.97,673.13 L415.07,677.23 L410.97,681.33 L406.87,677.23 Z" fill="#156082"/><path d="M430.94,652.38 L435.04,656.48 L430.94,660.58 L426.84,656.48 Z" fill="#156082"/><path d="M450.91,639.93 L455.01,644.03 L450.91,648.13 L446.81,644.03 Z" fill="#156082"/><path d="M470.88,639.93 L474.98,644.03 L470.88,648.13 L466.78,644.03 Z" fill="#156082"/><path d="M490.85,637.02 L494.95,641.12 L490.85,645.23 L486.75,641.12 Z" fill="#156082"/><path d="M510.82,633.29 L514.92,637.39 L510.82,641.49 L506.72,637.39 Z" fill="#156082"/><path d="M530.79,632.46 L534.89,636.56 L530.79,640.66 L526.69,636.56 Z" fill="#156082"/><rect x="387" y="681.53" width="8" height="8" fill="#e97132"/><rect x="406.97" y="667.42" width="8" height="8" fill="#e97132"/><rect x="426.94" y="651.65" width="8" height="8" fill="#e97132"/><rect x="446.91" y="647.5" width="8" height="8" fill="#e97132"/><rect x="466.88" y="633.39" width="8" height="8" fill="#e97132"/><rect x="486.85" y="633.81" width="8" height="8" fill="#e97132"/><rect x="506.82" y="631.32" width="8" height="8" fill="#e97132"/><rect x="526.79" y="634.22" width="8" height="8" fill="#e97132"/><text transform="translate(356.5,668) rotate(-90)" text-anchor="middle" font-family="Liberation Sans, sans-serif" font-size="9.3" fill="#404040">Percent Positive Gated (%)</text><text transform="translate(388.6,719) rotate(-45)" text-anchor="end" font-family="Liberation Sans, sans-serif" font-size="9.2" fill="#333" dy="6.62">8</text><text transform="translate(408.57,719) rotate(-45)" text-anchor="end" font-family="Liberation Sans, sans-serif" font-size="9.2" fill="#333" dy="6.62">16</text><text transform="translate(428.54,719) rotate(-45)" text-anchor="end" font-family="Liberation Sans, sans-serif" font-size="9.2" fill="#333" dy="6.62">32</text><text transform="translate(448.51,719) rotate(-45)" text-anchor="end" font-family="Liberation Sans, sans-serif" font-size="9.2" fill="#333" dy="6.62">64</text><text transform="translate(468.48,719) rotate(-45)" text-anchor="end" font-family="Liberation Sans, sans-serif" font-size="9.2" fill="#333" dy="6.62">125</text><text transform="translate(488.45,719) rotate(-45)" text-anchor="end" font-family="Liberation Sans, sans-serif" font-size="9.2" fill="#333" dy="6.62">250</text><text transform="translate(508.42,719) rotate(-45)" text-anchor="end" font-family="Liberation Sans, sans-serif" font-size="9.2" fill="#333" dy="6.62">500</text><text transform="translate(528.39,719) rotate(-45)" text-anchor="end" font-family="Liberation Sans, sans-serif" font-size="9.2" fill="#333" dy="6.62">1000</text></svg></body></html>
